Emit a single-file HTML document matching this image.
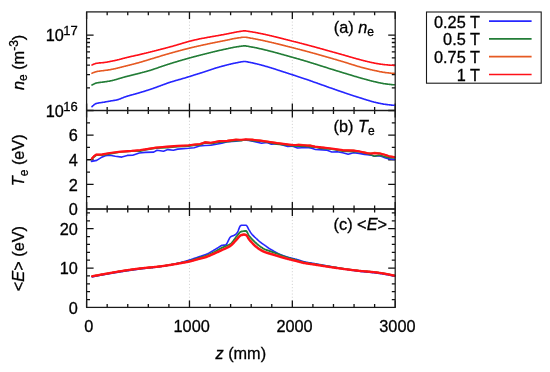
<!DOCTYPE html>
<html><head><meta charset="utf-8"><title>plot</title>
<style>html,body{margin:0;padding:0;background:#fff;}body{width:550px;height:372px;overflow:hidden;}svg{display:block;font-family:"Liberation Sans",Arial,sans-serif;}</style>
</head><body>
<svg width="550" height="372" viewBox="0 0 550 372">
<rect width="550" height="372" fill="#fff"/>
<line x1="189.47" y1="11.90" x2="189.47" y2="307.40" stroke="#c8c8c8" stroke-width="0.8" stroke-dasharray="1.1,2.1"/>
<line x1="292.33" y1="11.90" x2="292.33" y2="307.40" stroke="#c8c8c8" stroke-width="0.8" stroke-dasharray="1.1,2.1"/>
<path d="M86.60,11.90v7.00M86.60,110.50v-7.00M86.60,110.50v7.00M86.60,209.00v-7.00M86.60,209.00v7.00M86.60,307.40v-7.00M107.17,11.90v3.40M107.17,110.50v-3.40M107.17,110.50v3.40M107.17,209.00v-3.40M107.17,209.00v3.40M107.17,307.40v-3.40M127.75,11.90v3.40M127.75,110.50v-3.40M127.75,110.50v3.40M127.75,209.00v-3.40M127.75,209.00v3.40M127.75,307.40v-3.40M148.32,11.90v3.40M148.32,110.50v-3.40M148.32,110.50v3.40M148.32,209.00v-3.40M148.32,209.00v3.40M148.32,307.40v-3.40M168.89,11.90v3.40M168.89,110.50v-3.40M168.89,110.50v3.40M168.89,209.00v-3.40M168.89,209.00v3.40M168.89,307.40v-3.40M189.47,11.90v7.00M189.47,110.50v-7.00M189.47,110.50v7.00M189.47,209.00v-7.00M189.47,209.00v7.00M189.47,307.40v-7.00M210.04,11.90v3.40M210.04,110.50v-3.40M210.04,110.50v3.40M210.04,209.00v-3.40M210.04,209.00v3.40M210.04,307.40v-3.40M230.61,11.90v3.40M230.61,110.50v-3.40M230.61,110.50v3.40M230.61,209.00v-3.40M230.61,209.00v3.40M230.61,307.40v-3.40M251.19,11.90v3.40M251.19,110.50v-3.40M251.19,110.50v3.40M251.19,209.00v-3.40M251.19,209.00v3.40M251.19,307.40v-3.40M271.76,11.90v3.40M271.76,110.50v-3.40M271.76,110.50v3.40M271.76,209.00v-3.40M271.76,209.00v3.40M271.76,307.40v-3.40M292.33,11.90v7.00M292.33,110.50v-7.00M292.33,110.50v7.00M292.33,209.00v-7.00M292.33,209.00v7.00M292.33,307.40v-7.00M312.91,11.90v3.40M312.91,110.50v-3.40M312.91,110.50v3.40M312.91,209.00v-3.40M312.91,209.00v3.40M312.91,307.40v-3.40M333.48,11.90v3.40M333.48,110.50v-3.40M333.48,110.50v3.40M333.48,209.00v-3.40M333.48,209.00v3.40M333.48,307.40v-3.40M354.05,11.90v3.40M354.05,110.50v-3.40M354.05,110.50v3.40M354.05,209.00v-3.40M354.05,209.00v3.40M354.05,307.40v-3.40M374.63,11.90v3.40M374.63,110.50v-3.40M374.63,110.50v3.40M374.63,209.00v-3.40M374.63,209.00v3.40M374.63,307.40v-3.40M395.20,11.90v7.00M395.20,110.50v-7.00M395.20,110.50v7.00M395.20,209.00v-7.00M395.20,209.00v7.00M395.20,307.40v-7.00M86.60,110.50h7.00M395.20,110.50h-7.00M86.60,87.83h3.40M395.20,87.83h-3.40M86.60,74.57h3.40M395.20,74.57h-3.40M86.60,65.16h3.40M395.20,65.16h-3.40M86.60,57.87h3.40M395.20,57.87h-3.40M86.60,51.91h3.40M395.20,51.91h-3.40M86.60,46.86h3.40M395.20,46.86h-3.40M86.60,42.50h3.40M395.20,42.50h-3.40M86.60,38.65h3.40M395.20,38.65h-3.40M86.60,35.20h7.00M395.20,35.20h-7.00M86.60,196.69h3.40M395.20,196.69h-3.40M86.60,184.38h7.00M395.20,184.38h-7.00M86.60,172.06h3.40M395.20,172.06h-3.40M86.60,159.75h7.00M395.20,159.75h-7.00M86.60,147.44h3.40M395.20,147.44h-3.40M86.60,135.12h7.00M395.20,135.12h-7.00M86.60,122.81h3.40M395.20,122.81h-3.40M86.60,299.53h3.40M395.20,299.53h-3.40M86.60,291.66h3.40M395.20,291.66h-3.40M86.60,283.78h3.40M395.20,283.78h-3.40M86.60,275.91h3.40M395.20,275.91h-3.40M86.60,268.04h7.00M395.20,268.04h-7.00M86.60,260.17h3.40M395.20,260.17h-3.40M86.60,252.30h3.40M395.20,252.30h-3.40M86.60,244.42h3.40M395.20,244.42h-3.40M86.60,236.55h3.40M395.20,236.55h-3.40M86.60,228.68h7.00M395.20,228.68h-7.00M86.60,220.81h3.40M395.20,220.81h-3.40M86.60,212.94h3.40M395.20,212.94h-3.40" stroke="#111" stroke-width="1.3" fill="none"/>
<path d="M92.0,106.6L92.5,106.1L93.0,105.7L93.5,105.3L94.0,104.8L94.5,104.5L95.0,104.1L95.5,103.8L96.0,103.6L96.5,103.5L97.0,103.3L97.5,103.2L98.0,103.1L98.5,103.0L99.0,102.9L99.5,102.8L100.0,102.7L100.5,102.7L101.0,102.6L101.5,102.5L102.0,102.5L102.5,102.4L103.0,102.3L103.5,102.2L104.0,102.2L104.5,102.1L105.0,102.0L105.5,101.9L106.0,101.8L106.5,101.7L107.0,101.6L107.5,101.5L108.0,101.5L108.5,101.4L109.0,101.3L109.5,101.2L110.0,101.1L110.5,101.0L111.0,100.9L111.5,100.8L112.0,100.8L112.5,100.7L113.0,100.6L113.5,100.5L114.0,100.4L114.5,100.4L115.0,100.3L115.5,100.2L116.0,100.1L116.5,100.0L117.0,99.9L117.5,99.8L118.0,99.6L118.5,99.5L119.0,99.3L119.5,99.1L120.0,98.9L120.5,98.7L121.0,98.5L121.5,98.3L122.0,98.1L122.5,97.9L123.0,97.7L123.5,97.5L124.0,97.3L124.5,97.1L125.0,96.9L125.5,96.7L126.0,96.6L126.5,96.4L127.0,96.3L127.5,96.1L128.0,96.0L128.5,95.8L129.0,95.7L129.5,95.5L130.0,95.4L130.5,95.3L131.0,95.1L131.5,95.0L132.0,94.8L132.5,94.7L133.0,94.6L133.5,94.4L134.0,94.3L134.5,94.2L135.0,94.0L135.5,93.9L136.0,93.8L136.5,93.6L137.0,93.5L137.5,93.3L138.0,93.2L138.5,93.0L139.0,92.9L139.5,92.8L140.0,92.6L140.5,92.4L141.0,92.3L141.5,92.1L142.0,92.0L142.5,91.8L143.0,91.7L143.5,91.5L144.0,91.4L144.5,91.2L145.0,91.0L145.5,90.9L146.0,90.7L146.5,90.5L147.0,90.4L147.5,90.2L148.0,90.1L148.5,89.9L149.0,89.7L149.5,89.6L150.0,89.4L150.5,89.2L151.0,89.1L151.5,88.9L152.0,88.7L152.5,88.6L153.0,88.4L153.5,88.2L154.0,88.0L154.5,87.9L155.0,87.7L155.5,87.5L156.0,87.4L156.5,87.2L157.0,87.0L157.5,86.8L158.0,86.6L158.5,86.5L159.0,86.3L159.5,86.1L160.0,85.9L160.5,85.7L161.0,85.5L161.5,85.3L162.0,85.2L162.5,85.0L163.0,84.8L163.5,84.6L164.0,84.4L164.5,84.2L165.0,84.0L165.5,83.9L166.0,83.7L166.5,83.5L167.0,83.3L167.5,83.1L168.0,83.0L168.5,82.8L169.0,82.6L169.5,82.5L170.0,82.3L170.5,82.1L171.0,82.0L171.5,81.8L172.0,81.7L172.5,81.5L173.0,81.4L173.5,81.2L174.0,81.1L174.5,80.9L175.0,80.8L175.5,80.6L176.0,80.5L176.5,80.3L177.0,80.2L177.5,80.1L178.0,79.9L178.5,79.8L179.0,79.6L179.5,79.5L180.0,79.4L180.5,79.2L181.0,79.1L181.5,78.9L182.0,78.8L182.5,78.6L183.0,78.5L183.5,78.3L184.0,78.2L184.5,78.1L185.0,77.9L185.5,77.7L186.0,77.6L186.5,77.4L187.0,77.3L187.5,77.1L188.0,77.0L188.5,76.8L189.0,76.7L189.5,76.5L190.0,76.4L190.5,76.2L191.0,76.0L191.5,75.9L192.0,75.7L192.5,75.6L193.0,75.4L193.5,75.3L194.0,75.1L194.5,74.9L195.0,74.8L195.5,74.6L196.0,74.5L196.5,74.3L197.0,74.2L197.5,74.0L198.0,73.8L198.5,73.7L199.0,73.5L199.5,73.4L200.0,73.2L200.5,73.0L201.0,72.9L201.5,72.7L202.0,72.6L202.5,72.4L203.0,72.2L203.5,72.1L204.0,71.9L204.5,71.7L205.0,71.6L205.5,71.4L206.0,71.2L206.5,71.1L207.0,70.9L207.5,70.7L208.0,70.6L208.5,70.4L209.0,70.2L209.5,70.1L210.0,69.9L210.5,69.7L211.0,69.6L211.5,69.4L212.0,69.2L212.5,69.1L213.0,68.9L213.5,68.7L214.0,68.6L214.5,68.4L215.0,68.3L215.5,68.1L216.0,68.0L216.5,67.8L217.0,67.7L217.5,67.5L218.0,67.4L218.5,67.2L219.0,67.1L219.5,66.9L220.0,66.8L220.5,66.7L221.0,66.5L221.5,66.4L222.0,66.3L222.5,66.1L223.0,66.0L223.5,65.9L224.0,65.7L224.5,65.6L225.0,65.5L225.5,65.3L226.0,65.2L226.5,65.1L227.0,64.9L227.5,64.8L228.0,64.7L228.5,64.6L229.0,64.4L229.5,64.3L230.0,64.2L230.5,64.1L231.0,64.0L231.5,63.8L232.0,63.7L232.5,63.6L233.0,63.5L233.5,63.4L234.0,63.3L234.5,63.2L235.0,63.1L235.5,63.0L236.0,62.9L236.5,62.8L237.0,62.7L237.5,62.6L238.0,62.5L238.5,62.4L239.0,62.3L239.5,62.2L240.0,62.1L240.5,62.0L241.0,61.9L241.5,61.8L242.0,61.7L242.5,61.7L243.0,61.6L243.5,61.5L244.0,61.5L244.5,61.5L245.0,61.5L245.5,61.5L246.0,61.6L246.5,61.7L247.0,61.8L247.5,61.9L248.0,62.0L248.5,62.1L249.0,62.2L249.5,62.3L250.0,62.4L250.5,62.5L251.0,62.6L251.5,62.7L252.0,62.8L252.5,62.9L253.0,63.0L253.5,63.1L254.0,63.2L254.5,63.4L255.0,63.5L255.5,63.6L256.0,63.7L256.5,63.8L257.0,63.9L257.5,64.1L258.0,64.2L258.5,64.3L259.0,64.4L259.5,64.6L260.0,64.7L260.5,64.8L261.0,65.0L261.5,65.1L262.0,65.2L262.5,65.4L263.0,65.5L263.5,65.6L264.0,65.8L264.5,65.9L265.0,66.1L265.5,66.2L266.0,66.4L266.5,66.5L267.0,66.6L267.5,66.8L268.0,66.9L268.5,67.1L269.0,67.2L269.5,67.4L270.0,67.5L270.5,67.7L271.0,67.8L271.5,68.0L272.0,68.2L272.5,68.3L273.0,68.5L273.5,68.6L274.0,68.8L274.5,68.9L275.0,69.1L275.5,69.3L276.0,69.4L276.5,69.6L277.0,69.7L277.5,69.9L278.0,70.1L278.5,70.2L279.0,70.4L279.5,70.5L280.0,70.7L280.5,70.9L281.0,71.0L281.5,71.2L282.0,71.4L282.5,71.5L283.0,71.7L283.5,71.9L284.0,72.0L284.5,72.2L285.0,72.3L285.5,72.5L286.0,72.7L286.5,72.8L287.0,73.0L287.5,73.2L288.0,73.3L288.5,73.5L289.0,73.7L289.5,73.8L290.0,74.0L290.5,74.2L291.0,74.3L291.5,74.5L292.0,74.6L292.5,74.8L293.0,75.0L293.5,75.1L294.0,75.3L294.5,75.4L295.0,75.6L295.5,75.8L296.0,75.9L296.5,76.1L297.0,76.2L297.5,76.4L298.0,76.6L298.5,76.7L299.0,76.9L299.5,77.1L300.0,77.2L300.5,77.4L301.0,77.6L301.5,77.7L302.0,77.9L302.5,78.1L303.0,78.2L303.5,78.4L304.0,78.6L304.5,78.7L305.0,78.9L305.5,79.1L306.0,79.3L306.5,79.4L307.0,79.6L307.5,79.8L308.0,79.9L308.5,80.1L309.0,80.3L309.5,80.5L310.0,80.6L310.5,80.8L311.0,81.0L311.5,81.2L312.0,81.3L312.5,81.5L313.0,81.7L313.5,81.9L314.0,82.1L314.5,82.2L315.0,82.4L315.5,82.6L316.0,82.8L316.5,82.9L317.0,83.1L317.5,83.3L318.0,83.5L318.5,83.7L319.0,83.8L319.5,84.0L320.0,84.2L320.5,84.4L321.0,84.5L321.5,84.7L322.0,84.9L322.5,85.1L323.0,85.3L323.5,85.4L324.0,85.6L324.5,85.8L325.0,86.0L325.5,86.1L326.0,86.3L326.5,86.5L327.0,86.7L327.5,86.9L328.0,87.0L328.5,87.2L329.0,87.4L329.5,87.6L330.0,87.7L330.5,87.9L331.0,88.1L331.5,88.3L332.0,88.4L332.5,88.6L333.0,88.8L333.5,89.0L334.0,89.1L334.5,89.3L335.0,89.5L335.5,89.7L336.0,89.8L336.5,90.0L337.0,90.2L337.5,90.4L338.0,90.5L338.5,90.7L339.0,90.9L339.5,91.0L340.0,91.2L340.5,91.4L341.0,91.5L341.5,91.7L342.0,91.9L342.5,92.0L343.0,92.2L343.5,92.4L344.0,92.5L344.5,92.7L345.0,92.9L345.5,93.1L346.0,93.2L346.5,93.4L347.0,93.6L347.5,93.7L348.0,93.9L348.5,94.1L349.0,94.2L349.5,94.4L350.0,94.6L350.5,94.7L351.0,94.9L351.5,95.1L352.0,95.2L352.5,95.4L353.0,95.6L353.5,95.7L354.0,95.9L354.5,96.1L355.0,96.2L355.5,96.4L356.0,96.5L356.5,96.7L357.0,96.9L357.5,97.0L358.0,97.2L358.5,97.3L359.0,97.5L359.5,97.7L360.0,97.8L360.5,98.0L361.0,98.1L361.5,98.3L362.0,98.5L362.5,98.6L363.0,98.8L363.5,98.9L364.0,99.1L364.5,99.2L365.0,99.4L365.5,99.5L366.0,99.7L366.5,99.9L367.0,100.0L367.5,100.2L368.0,100.3L368.5,100.5L369.0,100.6L369.5,100.8L370.0,100.9L370.5,101.1L371.0,101.2L371.5,101.4L372.0,101.5L372.5,101.7L373.0,101.8L373.5,101.9L374.0,102.1L374.5,102.2L375.0,102.3L375.5,102.4L376.0,102.5L376.5,102.7L377.0,102.8L377.5,102.9L378.0,103.0L378.5,103.1L379.0,103.2L379.5,103.3L380.0,103.4L380.5,103.5L381.0,103.6L381.5,103.7L382.0,103.8L382.5,103.9L383.0,104.0L383.5,104.1L384.0,104.2L384.5,104.2L385.0,104.3L385.5,104.4L386.0,104.4L386.5,104.5L387.0,104.6L387.5,104.6L388.0,104.7L388.5,104.8L389.0,104.8L389.5,104.9L390.0,104.9L390.5,105.0L391.0,105.0L391.5,105.1L392.0,105.1L392.5,105.2L393.0,105.2L393.5,105.2L394.0,105.3L394.5,105.3" fill="none" stroke="#2626ff" stroke-width="1.60" stroke-linejoin="round" stroke-linecap="round"/>
<path d="M92.0,85.0L92.5,84.7L93.0,84.4L93.5,84.2L94.0,83.9L94.5,83.7L95.0,83.5L95.5,83.3L96.0,83.1L96.5,83.0L97.0,82.9L97.5,82.8L98.0,82.7L98.5,82.6L99.0,82.6L99.5,82.5L100.0,82.4L100.5,82.4L101.0,82.3L101.5,82.2L102.0,82.2L102.5,82.1L103.0,82.1L103.5,82.0L104.0,81.9L104.5,81.9L105.0,81.8L105.5,81.7L106.0,81.6L106.5,81.6L107.0,81.5L107.5,81.4L108.0,81.3L108.5,81.3L109.0,81.2L109.5,81.1L110.0,81.0L110.5,80.9L111.0,80.8L111.5,80.7L112.0,80.6L112.5,80.5L113.0,80.3L113.5,80.2L114.0,80.1L114.5,79.9L115.0,79.8L115.5,79.7L116.0,79.5L116.5,79.4L117.0,79.2L117.5,79.1L118.0,78.9L118.5,78.8L119.0,78.6L119.5,78.5L120.0,78.3L120.5,78.2L121.0,78.0L121.5,77.9L122.0,77.7L122.5,77.6L123.0,77.4L123.5,77.3L124.0,77.2L124.5,77.0L125.0,76.9L125.5,76.8L126.0,76.6L126.5,76.5L127.0,76.4L127.5,76.3L128.0,76.1L128.5,76.0L129.0,75.9L129.5,75.7L130.0,75.6L130.5,75.5L131.0,75.4L131.5,75.3L132.0,75.1L132.5,75.0L133.0,74.9L133.5,74.8L134.0,74.6L134.5,74.5L135.0,74.4L135.5,74.3L136.0,74.1L136.5,74.0L137.0,73.9L137.5,73.7L138.0,73.6L138.5,73.5L139.0,73.4L139.5,73.2L140.0,73.1L140.5,73.0L141.0,72.8L141.5,72.7L142.0,72.6L142.5,72.4L143.0,72.3L143.5,72.2L144.0,72.1L144.5,71.9L145.0,71.8L145.5,71.7L146.0,71.5L146.5,71.4L147.0,71.2L147.5,71.1L148.0,71.0L148.5,70.8L149.0,70.7L149.5,70.5L150.0,70.4L150.5,70.2L151.0,70.1L151.5,69.9L152.0,69.8L152.5,69.6L153.0,69.5L153.5,69.3L154.0,69.1L154.5,68.9L155.0,68.8L155.5,68.6L156.0,68.4L156.5,68.2L157.0,68.1L157.5,67.9L158.0,67.7L158.5,67.5L159.0,67.3L159.5,67.2L160.0,67.0L160.5,66.8L161.0,66.7L161.5,66.5L162.0,66.3L162.5,66.2L163.0,66.0L163.5,65.8L164.0,65.7L164.5,65.5L165.0,65.3L165.5,65.2L166.0,65.0L166.5,64.8L167.0,64.7L167.5,64.5L168.0,64.3L168.5,64.2L169.0,64.0L169.5,63.9L170.0,63.7L170.5,63.5L171.0,63.4L171.5,63.2L172.0,63.1L172.5,62.9L173.0,62.8L173.5,62.6L174.0,62.5L174.5,62.3L175.0,62.2L175.5,62.0L176.0,61.9L176.5,61.7L177.0,61.6L177.5,61.4L178.0,61.3L178.5,61.1L179.0,61.0L179.5,60.8L180.0,60.7L180.5,60.5L181.0,60.4L181.5,60.2L182.0,60.1L182.5,59.9L183.0,59.8L183.5,59.7L184.0,59.5L184.5,59.4L185.0,59.2L185.5,59.1L186.0,59.0L186.5,58.8L187.0,58.7L187.5,58.5L188.0,58.4L188.5,58.2L189.0,58.1L189.5,58.0L190.0,57.8L190.5,57.7L191.0,57.6L191.5,57.4L192.0,57.3L192.5,57.2L193.0,57.0L193.5,56.9L194.0,56.8L194.5,56.6L195.0,56.5L195.5,56.4L196.0,56.2L196.5,56.1L197.0,56.0L197.5,55.8L198.0,55.7L198.5,55.6L199.0,55.5L199.5,55.3L200.0,55.2L200.5,55.1L201.0,54.9L201.5,54.8L202.0,54.7L202.5,54.6L203.0,54.4L203.5,54.3L204.0,54.2L204.5,54.1L205.0,53.9L205.5,53.8L206.0,53.7L206.5,53.6L207.0,53.4L207.5,53.3L208.0,53.2L208.5,53.1L209.0,52.9L209.5,52.8L210.0,52.7L210.5,52.6L211.0,52.4L211.5,52.3L212.0,52.2L212.5,52.1L213.0,51.9L213.5,51.8L214.0,51.7L214.5,51.6L215.0,51.5L215.5,51.3L216.0,51.2L216.5,51.1L217.0,51.0L217.5,50.9L218.0,50.8L218.5,50.6L219.0,50.5L219.5,50.4L220.0,50.3L220.5,50.2L221.0,50.1L221.5,50.0L222.0,49.9L222.5,49.7L223.0,49.6L223.5,49.5L224.0,49.4L224.5,49.3L225.0,49.2L225.5,49.1L226.0,49.0L226.5,48.9L227.0,48.8L227.5,48.7L228.0,48.6L228.5,48.4L229.0,48.3L229.5,48.2L230.0,48.1L230.5,48.0L231.0,47.9L231.5,47.8L232.0,47.7L232.5,47.6L233.0,47.5L233.5,47.4L234.0,47.3L234.5,47.2L235.0,47.1L235.5,47.0L236.0,47.0L236.5,46.9L237.0,46.8L237.5,46.7L238.0,46.6L238.5,46.6L239.0,46.5L239.5,46.4L240.0,46.4L240.5,46.3L241.0,46.2L241.5,46.1L242.0,46.1L242.5,46.0L243.0,46.0L243.5,45.9L244.0,45.9L244.5,45.9L245.0,45.9L245.5,45.9L246.0,46.0L246.5,46.1L247.0,46.1L247.5,46.2L248.0,46.3L248.5,46.4L249.0,46.5L249.5,46.6L250.0,46.7L250.5,46.8L251.0,46.9L251.5,47.0L252.0,47.1L252.5,47.1L253.0,47.2L253.5,47.3L254.0,47.4L254.5,47.5L255.0,47.6L255.5,47.7L256.0,47.8L256.5,47.9L257.0,48.0L257.5,48.1L258.0,48.3L258.5,48.4L259.0,48.5L259.5,48.6L260.0,48.7L260.5,48.8L261.0,48.9L261.5,49.0L262.0,49.1L262.5,49.3L263.0,49.4L263.5,49.5L264.0,49.6L264.5,49.7L265.0,49.9L265.5,50.0L266.0,50.1L266.5,50.2L267.0,50.3L267.5,50.5L268.0,50.6L268.5,50.7L269.0,50.9L269.5,51.0L270.0,51.1L270.5,51.2L271.0,51.4L271.5,51.5L272.0,51.6L272.5,51.8L273.0,51.9L273.5,52.0L274.0,52.2L274.5,52.3L275.0,52.4L275.5,52.6L276.0,52.7L276.5,52.8L277.0,53.0L277.5,53.1L278.0,53.3L278.5,53.4L279.0,53.5L279.5,53.7L280.0,53.8L280.5,53.9L281.0,54.1L281.5,54.2L282.0,54.4L282.5,54.5L283.0,54.6L283.5,54.8L284.0,54.9L284.5,55.1L285.0,55.2L285.5,55.3L286.0,55.5L286.5,55.6L287.0,55.8L287.5,55.9L288.0,56.0L288.5,56.2L289.0,56.3L289.5,56.5L290.0,56.6L290.5,56.7L291.0,56.9L291.5,57.0L292.0,57.2L292.5,57.3L293.0,57.4L293.5,57.6L294.0,57.7L294.5,57.9L295.0,58.0L295.5,58.1L296.0,58.3L296.5,58.4L297.0,58.6L297.5,58.7L298.0,58.8L298.5,59.0L299.0,59.1L299.5,59.3L300.0,59.4L300.5,59.6L301.0,59.7L301.5,59.9L302.0,60.0L302.5,60.1L303.0,60.3L303.5,60.4L304.0,60.6L304.5,60.7L305.0,60.9L305.5,61.0L306.0,61.2L306.5,61.3L307.0,61.5L307.5,61.6L308.0,61.8L308.5,62.0L309.0,62.1L309.5,62.3L310.0,62.4L310.5,62.6L311.0,62.7L311.5,62.9L312.0,63.0L312.5,63.2L313.0,63.3L313.5,63.5L314.0,63.7L314.5,63.8L315.0,64.0L315.5,64.1L316.0,64.3L316.5,64.4L317.0,64.6L317.5,64.8L318.0,64.9L318.5,65.1L319.0,65.2L319.5,65.4L320.0,65.5L320.5,65.7L321.0,65.9L321.5,66.0L322.0,66.2L322.5,66.3L323.0,66.5L323.5,66.7L324.0,66.8L324.5,67.0L325.0,67.1L325.5,67.3L326.0,67.4L326.5,67.6L327.0,67.8L327.5,67.9L328.0,68.1L328.5,68.2L329.0,68.4L329.5,68.6L330.0,68.7L330.5,68.9L331.0,69.0L331.5,69.2L332.0,69.3L332.5,69.5L333.0,69.6L333.5,69.8L334.0,70.0L334.5,70.1L335.0,70.3L335.5,70.4L336.0,70.6L336.5,70.7L337.0,70.9L337.5,71.0L338.0,71.2L338.5,71.3L339.0,71.5L339.5,71.6L340.0,71.8L340.5,72.0L341.0,72.1L341.5,72.3L342.0,72.4L342.5,72.6L343.0,72.7L343.5,72.9L344.0,73.0L344.5,73.2L345.0,73.3L345.5,73.5L346.0,73.6L346.5,73.8L347.0,73.9L347.5,74.1L348.0,74.2L348.5,74.4L349.0,74.5L349.5,74.7L350.0,74.8L350.5,75.0L351.0,75.1L351.5,75.3L352.0,75.5L352.5,75.6L353.0,75.8L353.5,75.9L354.0,76.1L354.5,76.2L355.0,76.4L355.5,76.5L356.0,76.6L356.5,76.8L357.0,76.9L357.5,77.1L358.0,77.2L358.5,77.4L359.0,77.5L359.5,77.7L360.0,77.8L360.5,78.0L361.0,78.1L361.5,78.2L362.0,78.4L362.5,78.5L363.0,78.7L363.5,78.8L364.0,78.9L364.5,79.1L365.0,79.2L365.5,79.3L366.0,79.5L366.5,79.6L367.0,79.8L367.5,79.9L368.0,80.0L368.5,80.2L369.0,80.3L369.5,80.4L370.0,80.6L370.5,80.7L371.0,80.8L371.5,81.0L372.0,81.1L372.5,81.2L373.0,81.3L373.5,81.5L374.0,81.6L374.5,81.7L375.0,81.8L375.5,81.9L376.0,82.0L376.5,82.1L377.0,82.3L377.5,82.4L378.0,82.5L378.5,82.6L379.0,82.7L379.5,82.8L380.0,82.9L380.5,83.0L381.0,83.1L381.5,83.2L382.0,83.3L382.5,83.4L383.0,83.5L383.5,83.6L384.0,83.7L384.5,83.7L385.0,83.8L385.5,83.9L386.0,83.9L386.5,84.0L387.0,84.1L387.5,84.1L388.0,84.2L388.5,84.3L389.0,84.3L389.5,84.4L390.0,84.4L390.5,84.5L391.0,84.5L391.5,84.6L392.0,84.6L392.5,84.7L393.0,84.7L393.5,84.7L394.0,84.8L394.5,84.8" fill="none" stroke="#237d37" stroke-width="1.60" stroke-linejoin="round" stroke-linecap="round"/>
<path d="M92.0,73.3L92.5,73.1L93.0,72.8L93.5,72.6L94.0,72.4L94.5,72.2L95.0,72.0L95.5,71.9L96.0,71.7L96.5,71.6L97.0,71.5L97.5,71.4L98.0,71.3L98.5,71.2L99.0,71.2L99.5,71.1L100.0,71.0L100.5,71.0L101.0,70.9L101.5,70.8L102.0,70.8L102.5,70.7L103.0,70.7L103.5,70.6L104.0,70.5L104.5,70.5L105.0,70.4L105.5,70.3L106.0,70.3L106.5,70.2L107.0,70.1L107.5,70.1L108.0,70.0L108.5,69.9L109.0,69.9L109.5,69.8L110.0,69.7L110.5,69.6L111.0,69.5L111.5,69.4L112.0,69.3L112.5,69.2L113.0,69.1L113.5,69.0L114.0,68.9L114.5,68.8L115.0,68.7L115.5,68.6L116.0,68.5L116.5,68.3L117.0,68.2L117.5,68.1L118.0,68.0L118.5,67.8L119.0,67.7L119.5,67.6L120.0,67.5L120.5,67.3L121.0,67.2L121.5,67.1L122.0,67.0L122.5,66.8L123.0,66.7L123.5,66.6L124.0,66.4L124.5,66.3L125.0,66.2L125.5,66.1L126.0,66.0L126.5,65.8L127.0,65.7L127.5,65.6L128.0,65.5L128.5,65.3L129.0,65.2L129.5,65.1L130.0,65.0L130.5,64.8L131.0,64.7L131.5,64.6L132.0,64.4L132.5,64.3L133.0,64.2L133.5,64.1L134.0,63.9L134.5,63.8L135.0,63.7L135.5,63.5L136.0,63.4L136.5,63.3L137.0,63.1L137.5,63.0L138.0,62.9L138.5,62.7L139.0,62.6L139.5,62.4L140.0,62.3L140.5,62.2L141.0,62.0L141.5,61.9L142.0,61.7L142.5,61.6L143.0,61.4L143.5,61.3L144.0,61.1L144.5,61.0L145.0,60.8L145.5,60.7L146.0,60.5L146.5,60.4L147.0,60.2L147.5,60.1L148.0,59.9L148.5,59.8L149.0,59.6L149.5,59.5L150.0,59.3L150.5,59.1L151.0,59.0L151.5,58.8L152.0,58.7L152.5,58.5L153.0,58.4L153.5,58.2L154.0,58.1L154.5,57.9L155.0,57.8L155.5,57.6L156.0,57.5L156.5,57.3L157.0,57.2L157.5,57.0L158.0,56.9L158.5,56.7L159.0,56.6L159.5,56.4L160.0,56.2L160.5,56.1L161.0,55.9L161.5,55.8L162.0,55.6L162.5,55.5L163.0,55.3L163.5,55.2L164.0,55.0L164.5,54.9L165.0,54.7L165.5,54.6L166.0,54.4L166.5,54.3L167.0,54.2L167.5,54.0L168.0,53.9L168.5,53.7L169.0,53.6L169.5,53.4L170.0,53.3L170.5,53.2L171.0,53.0L171.5,52.9L172.0,52.7L172.5,52.6L173.0,52.5L173.5,52.3L174.0,52.2L174.5,52.1L175.0,51.9L175.5,51.8L176.0,51.6L176.5,51.5L177.0,51.4L177.5,51.2L178.0,51.1L178.5,51.0L179.0,50.8L179.5,50.7L180.0,50.6L180.5,50.4L181.0,50.3L181.5,50.2L182.0,50.0L182.5,49.9L183.0,49.8L183.5,49.6L184.0,49.5L184.5,49.4L185.0,49.3L185.5,49.1L186.0,49.0L186.5,48.9L187.0,48.7L187.5,48.6L188.0,48.5L188.5,48.4L189.0,48.2L189.5,48.1L190.0,48.0L190.5,47.9L191.0,47.8L191.5,47.6L192.0,47.5L192.5,47.4L193.0,47.3L193.5,47.2L194.0,47.0L194.5,46.9L195.0,46.8L195.5,46.7L196.0,46.6L196.5,46.5L197.0,46.3L197.5,46.2L198.0,46.1L198.5,46.0L199.0,45.9L199.5,45.8L200.0,45.7L200.5,45.6L201.0,45.4L201.5,45.3L202.0,45.2L202.5,45.1L203.0,45.0L203.5,44.9L204.0,44.8L204.5,44.7L205.0,44.6L205.5,44.5L206.0,44.4L206.5,44.3L207.0,44.2L207.5,44.0L208.0,43.9L208.5,43.8L209.0,43.7L209.5,43.6L210.0,43.5L210.5,43.4L211.0,43.3L211.5,43.2L212.0,43.1L212.5,43.0L213.0,42.9L213.5,42.8L214.0,42.7L214.5,42.6L215.0,42.5L215.5,42.4L216.0,42.3L216.5,42.2L217.0,42.1L217.5,42.0L218.0,41.9L218.5,41.8L219.0,41.7L219.5,41.6L220.0,41.5L220.5,41.4L221.0,41.3L221.5,41.2L222.0,41.1L222.5,41.0L223.0,40.9L223.5,40.8L224.0,40.7L224.5,40.6L225.0,40.5L225.5,40.4L226.0,40.3L226.5,40.2L227.0,40.1L227.5,40.0L228.0,39.9L228.5,39.8L229.0,39.7L229.5,39.6L230.0,39.5L230.5,39.3L231.0,39.2L231.5,39.1L232.0,39.0L232.5,38.9L233.0,38.8L233.5,38.7L234.0,38.6L234.5,38.5L235.0,38.4L235.5,38.4L236.0,38.3L236.5,38.2L237.0,38.1L237.5,38.0L238.0,37.9L238.5,37.9L239.0,37.8L239.5,37.7L240.0,37.7L240.5,37.6L241.0,37.5L241.5,37.4L242.0,37.4L242.5,37.3L243.0,37.3L243.5,37.2L244.0,37.2L244.5,37.2L245.0,37.2L245.5,37.2L246.0,37.3L246.5,37.4L247.0,37.4L247.5,37.5L248.0,37.6L248.5,37.7L249.0,37.8L249.5,37.9L250.0,38.0L250.5,38.1L251.0,38.2L251.5,38.3L252.0,38.3L252.5,38.4L253.0,38.5L253.5,38.6L254.0,38.7L254.5,38.8L255.0,38.9L255.5,39.0L256.0,39.1L256.5,39.2L257.0,39.3L257.5,39.4L258.0,39.5L258.5,39.6L259.0,39.7L259.5,39.8L260.0,39.9L260.5,40.0L261.0,40.1L261.5,40.2L262.0,40.3L262.5,40.4L263.0,40.5L263.5,40.6L264.0,40.7L264.5,40.8L265.0,41.0L265.5,41.1L266.0,41.2L266.5,41.3L267.0,41.4L267.5,41.5L268.0,41.6L268.5,41.7L269.0,41.9L269.5,42.0L270.0,42.1L270.5,42.2L271.0,42.3L271.5,42.4L272.0,42.6L272.5,42.7L273.0,42.8L273.5,42.9L274.0,43.0L274.5,43.2L275.0,43.3L275.5,43.4L276.0,43.5L276.5,43.7L277.0,43.8L277.5,43.9L278.0,44.0L278.5,44.1L279.0,44.3L279.5,44.4L280.0,44.5L280.5,44.6L281.0,44.8L281.5,44.9L282.0,45.0L282.5,45.1L283.0,45.3L283.5,45.4L284.0,45.5L284.5,45.6L285.0,45.8L285.5,45.9L286.0,46.0L286.5,46.2L287.0,46.3L287.5,46.4L288.0,46.5L288.5,46.7L289.0,46.8L289.5,46.9L290.0,47.0L290.5,47.2L291.0,47.3L291.5,47.4L292.0,47.5L292.5,47.7L293.0,47.8L293.5,47.9L294.0,48.0L294.5,48.2L295.0,48.3L295.5,48.4L296.0,48.6L296.5,48.7L297.0,48.8L297.5,48.9L298.0,49.1L298.5,49.2L299.0,49.3L299.5,49.4L300.0,49.6L300.5,49.7L301.0,49.8L301.5,50.0L302.0,50.1L302.5,50.2L303.0,50.4L303.5,50.5L304.0,50.6L304.5,50.8L305.0,50.9L305.5,51.0L306.0,51.2L306.5,51.3L307.0,51.4L307.5,51.6L308.0,51.7L308.5,51.8L309.0,52.0L309.5,52.1L310.0,52.2L310.5,52.4L311.0,52.5L311.5,52.7L312.0,52.8L312.5,52.9L313.0,53.1L313.5,53.2L314.0,53.3L314.5,53.5L315.0,53.6L315.5,53.8L316.0,53.9L316.5,54.0L317.0,54.2L317.5,54.3L318.0,54.5L318.5,54.6L319.0,54.7L319.5,54.9L320.0,55.0L320.5,55.2L321.0,55.3L321.5,55.5L322.0,55.6L322.5,55.7L323.0,55.9L323.5,56.0L324.0,56.2L324.5,56.3L325.0,56.5L325.5,56.6L326.0,56.7L326.5,56.9L327.0,57.0L327.5,57.2L328.0,57.3L328.5,57.5L329.0,57.6L329.5,57.8L330.0,57.9L330.5,58.0L331.0,58.2L331.5,58.3L332.0,58.5L332.5,58.6L333.0,58.8L333.5,58.9L334.0,59.1L334.5,59.2L335.0,59.3L335.5,59.5L336.0,59.6L336.5,59.8L337.0,59.9L337.5,60.1L338.0,60.2L338.5,60.4L339.0,60.5L339.5,60.7L340.0,60.8L340.5,60.9L341.0,61.1L341.5,61.2L342.0,61.4L342.5,61.5L343.0,61.7L343.5,61.8L344.0,62.0L344.5,62.2L345.0,62.3L345.5,62.5L346.0,62.6L346.5,62.8L347.0,62.9L347.5,63.1L348.0,63.3L348.5,63.4L349.0,63.6L349.5,63.7L350.0,63.9L350.5,64.0L351.0,64.2L351.5,64.4L352.0,64.5L352.5,64.7L353.0,64.8L353.5,65.0L354.0,65.1L354.5,65.3L355.0,65.5L355.5,65.6L356.0,65.8L356.5,65.9L357.0,66.1L357.5,66.2L358.0,66.4L358.5,66.5L359.0,66.6L359.5,66.8L360.0,66.9L360.5,67.1L361.0,67.2L361.5,67.4L362.0,67.5L362.5,67.6L363.0,67.8L363.5,67.9L364.0,68.0L364.5,68.1L365.0,68.3L365.5,68.4L366.0,68.5L366.5,68.6L367.0,68.8L367.5,68.9L368.0,69.0L368.5,69.1L369.0,69.3L369.5,69.4L370.0,69.5L370.5,69.6L371.0,69.7L371.5,69.8L372.0,69.9L372.5,70.1L373.0,70.2L373.5,70.3L374.0,70.4L374.5,70.5L375.0,70.6L375.5,70.7L376.0,70.8L376.5,70.9L377.0,71.0L377.5,71.1L378.0,71.2L378.5,71.3L379.0,71.5L379.5,71.6L380.0,71.7L380.5,71.8L381.0,71.9L381.5,71.9L382.0,72.0L382.5,72.1L383.0,72.2L383.5,72.3L384.0,72.4L384.5,72.4L385.0,72.5L385.5,72.6L386.0,72.6L386.5,72.7L387.0,72.7L387.5,72.8L388.0,72.9L388.5,72.9L389.0,73.0L389.5,73.0L390.0,73.1L390.5,73.1L391.0,73.2L391.5,73.2L392.0,73.2L392.5,73.3L393.0,73.3L393.5,73.3L394.0,73.4L394.5,73.4" fill="none" stroke="#e65a23" stroke-width="1.60" stroke-linejoin="round" stroke-linecap="round"/>
<path d="M92.0,65.0L92.5,64.8L93.0,64.5L93.5,64.3L94.0,64.1L94.5,63.9L95.0,63.7L95.5,63.5L96.0,63.4L96.5,63.3L97.0,63.2L97.5,63.2L98.0,63.1L98.5,63.0L99.0,63.0L99.5,62.9L100.0,62.9L100.5,62.9L101.0,62.8L101.5,62.8L102.0,62.7L102.5,62.7L103.0,62.6L103.5,62.6L104.0,62.5L104.5,62.5L105.0,62.4L105.5,62.3L106.0,62.3L106.5,62.2L107.0,62.1L107.5,62.0L108.0,61.9L108.5,61.8L109.0,61.7L109.5,61.6L110.0,61.5L110.5,61.4L111.0,61.3L111.5,61.2L112.0,61.1L112.5,61.0L113.0,60.9L113.5,60.8L114.0,60.7L114.5,60.6L115.0,60.5L115.5,60.4L116.0,60.3L116.5,60.2L117.0,60.0L117.5,59.9L118.0,59.8L118.5,59.7L119.0,59.6L119.5,59.4L120.0,59.3L120.5,59.2L121.0,59.0L121.5,58.9L122.0,58.8L122.5,58.6L123.0,58.5L123.5,58.3L124.0,58.2L124.5,58.1L125.0,58.0L125.5,57.8L126.0,57.7L126.5,57.6L127.0,57.5L127.5,57.3L128.0,57.2L128.5,57.1L129.0,57.0L129.5,56.9L130.0,56.8L130.5,56.6L131.0,56.5L131.5,56.4L132.0,56.3L132.5,56.2L133.0,56.1L133.5,56.0L134.0,55.9L134.5,55.8L135.0,55.6L135.5,55.5L136.0,55.4L136.5,55.3L137.0,55.2L137.5,55.1L138.0,55.0L138.5,54.9L139.0,54.7L139.5,54.6L140.0,54.5L140.5,54.4L141.0,54.3L141.5,54.1L142.0,54.0L142.5,53.9L143.0,53.8L143.5,53.7L144.0,53.5L144.5,53.4L145.0,53.3L145.5,53.2L146.0,53.1L146.5,52.9L147.0,52.8L147.5,52.7L148.0,52.6L148.5,52.4L149.0,52.3L149.5,52.2L150.0,52.1L150.5,51.9L151.0,51.8L151.5,51.7L152.0,51.6L152.5,51.4L153.0,51.3L153.5,51.2L154.0,51.1L154.5,50.9L155.0,50.8L155.5,50.7L156.0,50.6L156.5,50.4L157.0,50.3L157.5,50.2L158.0,50.0L158.5,49.9L159.0,49.8L159.5,49.7L160.0,49.5L160.5,49.4L161.0,49.3L161.5,49.1L162.0,49.0L162.5,48.9L163.0,48.7L163.5,48.6L164.0,48.5L164.5,48.4L165.0,48.2L165.5,48.1L166.0,48.0L166.5,47.8L167.0,47.7L167.5,47.6L168.0,47.4L168.5,47.3L169.0,47.2L169.5,47.0L170.0,46.9L170.5,46.8L171.0,46.6L171.5,46.5L172.0,46.4L172.5,46.2L173.0,46.1L173.5,45.9L174.0,45.8L174.5,45.6L175.0,45.5L175.5,45.4L176.0,45.2L176.5,45.1L177.0,44.9L177.5,44.8L178.0,44.6L178.5,44.5L179.0,44.3L179.5,44.2L180.0,44.0L180.5,43.9L181.0,43.7L181.5,43.6L182.0,43.4L182.5,43.3L183.0,43.1L183.5,43.0L184.0,42.8L184.5,42.7L185.0,42.5L185.5,42.4L186.0,42.2L186.5,42.1L187.0,42.0L187.5,41.8L188.0,41.7L188.5,41.5L189.0,41.4L189.5,41.3L190.0,41.1L190.5,41.0L191.0,40.9L191.5,40.7L192.0,40.6L192.5,40.5L193.0,40.4L193.5,40.2L194.0,40.1L194.5,40.0L195.0,39.9L195.5,39.8L196.0,39.7L196.5,39.6L197.0,39.5L197.5,39.4L198.0,39.2L198.5,39.1L199.0,39.0L199.5,38.9L200.0,38.8L200.5,38.7L201.0,38.6L201.5,38.5L202.0,38.4L202.5,38.3L203.0,38.2L203.5,38.2L204.0,38.1L204.5,38.0L205.0,37.9L205.5,37.8L206.0,37.7L206.5,37.6L207.0,37.5L207.5,37.4L208.0,37.3L208.5,37.2L209.0,37.1L209.5,37.1L210.0,37.0L210.5,36.9L211.0,36.8L211.5,36.7L212.0,36.6L212.5,36.5L213.0,36.4L213.5,36.4L214.0,36.3L214.5,36.2L215.0,36.1L215.5,36.0L216.0,35.9L216.5,35.8L217.0,35.7L217.5,35.7L218.0,35.6L218.5,35.5L219.0,35.4L219.5,35.3L220.0,35.2L220.5,35.1L221.0,35.0L221.5,34.9L222.0,34.9L222.5,34.8L223.0,34.7L223.5,34.6L224.0,34.5L224.5,34.4L225.0,34.3L225.5,34.2L226.0,34.1L226.5,34.0L227.0,33.9L227.5,33.8L228.0,33.7L228.5,33.6L229.0,33.5L229.5,33.4L230.0,33.3L230.5,33.2L231.0,33.1L231.5,33.0L232.0,32.9L232.5,32.8L233.0,32.7L233.5,32.6L234.0,32.5L234.5,32.4L235.0,32.3L235.5,32.2L236.0,32.1L236.5,32.0L237.0,31.9L237.5,31.8L238.0,31.8L238.5,31.7L239.0,31.6L239.5,31.5L240.0,31.4L240.5,31.4L241.0,31.3L241.5,31.2L242.0,31.1L242.5,31.0L243.0,31.0L243.5,30.9L244.0,30.9L244.5,30.9L245.0,30.9L245.5,30.9L246.0,31.0L246.5,31.0L247.0,31.1L247.5,31.2L248.0,31.3L248.5,31.4L249.0,31.4L249.5,31.5L250.0,31.6L250.5,31.7L251.0,31.8L251.5,31.8L252.0,31.9L252.5,32.0L253.0,32.1L253.5,32.2L254.0,32.3L254.5,32.3L255.0,32.4L255.5,32.5L256.0,32.6L256.5,32.7L257.0,32.8L257.5,32.9L258.0,33.0L258.5,33.1L259.0,33.2L259.5,33.3L260.0,33.4L260.5,33.5L261.0,33.6L261.5,33.7L262.0,33.8L262.5,33.9L263.0,34.0L263.5,34.1L264.0,34.2L264.5,34.3L265.0,34.4L265.5,34.5L266.0,34.7L266.5,34.8L267.0,34.9L267.5,35.0L268.0,35.1L268.5,35.2L269.0,35.3L269.5,35.5L270.0,35.6L270.5,35.7L271.0,35.8L271.5,35.9L272.0,36.0L272.5,36.2L273.0,36.3L273.5,36.4L274.0,36.5L274.5,36.7L275.0,36.8L275.5,36.9L276.0,37.0L276.5,37.1L277.0,37.3L277.5,37.4L278.0,37.5L278.5,37.6L279.0,37.8L279.5,37.9L280.0,38.0L280.5,38.1L281.0,38.3L281.5,38.4L282.0,38.5L282.5,38.6L283.0,38.8L283.5,38.9L284.0,39.0L284.5,39.2L285.0,39.3L285.5,39.4L286.0,39.5L286.5,39.7L287.0,39.8L287.5,39.9L288.0,40.0L288.5,40.2L289.0,40.3L289.5,40.4L290.0,40.5L290.5,40.7L291.0,40.8L291.5,40.9L292.0,41.1L292.5,41.2L293.0,41.3L293.5,41.4L294.0,41.6L294.5,41.7L295.0,41.8L295.5,41.9L296.0,42.0L296.5,42.2L297.0,42.3L297.5,42.4L298.0,42.5L298.5,42.7L299.0,42.8L299.5,42.9L300.0,43.1L300.5,43.2L301.0,43.3L301.5,43.4L302.0,43.6L302.5,43.7L303.0,43.8L303.5,44.0L304.0,44.1L304.5,44.2L305.0,44.4L305.5,44.5L306.0,44.6L306.5,44.8L307.0,44.9L307.5,45.0L308.0,45.2L308.5,45.3L309.0,45.4L309.5,45.6L310.0,45.7L310.5,45.8L311.0,46.0L311.5,46.1L312.0,46.2L312.5,46.4L313.0,46.5L313.5,46.6L314.0,46.8L314.5,46.9L315.0,47.0L315.5,47.2L316.0,47.3L316.5,47.5L317.0,47.6L317.5,47.7L318.0,47.9L318.5,48.0L319.0,48.1L319.5,48.3L320.0,48.4L320.5,48.6L321.0,48.7L321.5,48.8L322.0,49.0L322.5,49.1L323.0,49.3L323.5,49.4L324.0,49.5L324.5,49.7L325.0,49.8L325.5,50.0L326.0,50.1L326.5,50.2L327.0,50.4L327.5,50.5L328.0,50.7L328.5,50.8L329.0,50.9L329.5,51.1L330.0,51.2L330.5,51.4L331.0,51.5L331.5,51.6L332.0,51.8L332.5,51.9L333.0,52.1L333.5,52.2L334.0,52.3L334.5,52.5L335.0,52.6L335.5,52.8L336.0,52.9L336.5,53.0L337.0,53.2L337.5,53.3L338.0,53.4L338.5,53.6L339.0,53.7L339.5,53.9L340.0,54.0L340.5,54.1L341.0,54.3L341.5,54.4L342.0,54.6L342.5,54.7L343.0,54.8L343.5,55.0L344.0,55.1L344.5,55.3L345.0,55.4L345.5,55.6L346.0,55.7L346.5,55.9L347.0,56.0L347.5,56.1L348.0,56.3L348.5,56.4L349.0,56.6L349.5,56.7L350.0,56.9L350.5,57.0L351.0,57.2L351.5,57.3L352.0,57.4L352.5,57.6L353.0,57.7L353.5,57.9L354.0,58.0L354.5,58.2L355.0,58.3L355.5,58.4L356.0,58.6L356.5,58.7L357.0,58.9L357.5,59.0L358.0,59.1L358.5,59.3L359.0,59.4L359.5,59.5L360.0,59.7L360.5,59.8L361.0,59.9L361.5,60.1L362.0,60.2L362.5,60.3L363.0,60.5L363.5,60.6L364.0,60.7L364.5,60.8L365.0,61.0L365.5,61.1L366.0,61.2L366.5,61.3L367.0,61.4L367.5,61.6L368.0,61.7L368.5,61.8L369.0,61.9L369.5,62.0L370.0,62.2L370.5,62.3L371.0,62.4L371.5,62.5L372.0,62.6L372.5,62.7L373.0,62.8L373.5,62.9L374.0,63.0L374.5,63.1L375.0,63.2L375.5,63.3L376.0,63.4L376.5,63.5L377.0,63.6L377.5,63.6L378.0,63.7L378.5,63.8L379.0,63.9L379.5,64.0L380.0,64.1L380.5,64.1L381.0,64.2L381.5,64.3L382.0,64.3L382.5,64.4L383.0,64.5L383.5,64.5L384.0,64.6L384.5,64.6L385.0,64.7L385.5,64.7L386.0,64.8L386.5,64.8L387.0,64.9L387.5,64.9L388.0,65.0L388.5,65.0L389.0,65.1L389.5,65.1L390.0,65.1L390.5,65.2L391.0,65.2L391.5,65.2L392.0,65.3L392.5,65.3L393.0,65.3L393.5,65.4L394.0,65.4L394.5,65.4" fill="none" stroke="#ff1019" stroke-width="1.60" stroke-linejoin="round" stroke-linecap="round"/>
<path d="M91.5,161.4L96.7,160.4L101.1,157.6L105.4,155.7L109.8,155.2L115.3,156.3L121.8,157.1L127.3,155.4L132.7,155.2L139.3,153.0L145.0,152.4L153.7,152.1L157.0,150.2L160.3,150.7L163.5,151.3L167.9,149.6L173.4,150.2L177.7,149.1L188.6,148.3L194.1,147.7L199.5,146.0L205.0,145.5L210.9,145.2L221.8,143.3L228.4,141.6L236.0,141.1L243.6,140.0L249.1,140.5L255.0,141.8L261.5,143.3L267.0,142.5L271.4,144.2L274.1,144.0L277.9,143.6L283.4,145.3L287.7,146.4L292.1,146.1L297.5,148.0L301.9,147.7L307.3,147.4L311.7,148.3L315.5,149.5L326.4,150.1L331.8,152.0L337.3,151.7L342.7,152.8L348.2,154.2L353.6,152.8L359.1,153.4L364.5,154.4L367.3,154.7L370.9,155.1L374.5,156.2L378.9,155.8L381.8,156.5L385.5,158.0L389.1,158.9L394.5,159.5" fill="none" stroke="#2626ff" stroke-width="1.60" stroke-linejoin="round" stroke-linecap="round"/>
<path d="M91.8,159.3L94.0,157.0L96.2,155.3L102.2,155.3L109.8,153.9L120.7,152.0L131.6,151.3L140.3,151.1L145.0,150.0L155.9,148.3L166.8,147.8L177.7,146.7L188.6,146.3L195.2,145.3L200.0,144.9L204.9,142.9L210.9,143.6L219.6,142.2L227.3,141.7L236.0,140.8L241.4,140.8L245.8,139.6L252.3,140.8L255.0,140.9L260.0,141.2L265.9,141.9L276.8,144.2L287.7,145.2L293.2,146.0L298.6,146.1L307.3,146.5L310.0,146.9L315.0,147.3L320.9,148.5L331.8,149.3L342.7,151.3L353.6,151.7L359.1,151.6L363.0,152.8L367.3,153.8L370.9,154.7L374.5,156.2L378.9,155.1L381.8,155.8L385.5,156.9L389.1,157.6L394.5,158.0" fill="none" stroke="#237d37" stroke-width="1.60" stroke-linejoin="round" stroke-linecap="round"/>
<path d="M91.8,158.4L94.0,156.1L96.2,154.5L102.2,154.6L109.8,153.0L120.7,151.8L131.6,151.1L140.3,150.3L145.0,149.4L155.9,147.2L166.8,146.8L177.7,146.2L188.6,145.4L195.2,144.4L200.0,144.0L204.9,141.9L210.9,142.8L219.6,141.0L227.3,140.5L236.0,139.2L241.4,140.0L245.8,139.5L252.3,139.2L255.0,140.1L260.0,140.3L265.9,141.0L276.8,142.7L287.7,144.5L293.2,145.2L298.6,144.3L307.3,145.4L310.0,145.0L315.0,146.6L320.9,147.0L331.8,148.7L342.7,150.4L353.6,150.4L359.1,151.5L363.0,151.9L367.3,152.7L370.9,153.4L374.5,152.6L379.6,153.0L385.5,154.8L389.1,156.1L394.5,156.8" fill="none" stroke="#e65a23" stroke-width="1.60" stroke-linejoin="round" stroke-linecap="round"/>
<path d="M91.8,158.7L94.0,156.2L96.2,154.6L102.2,154.4L109.8,153.0L120.7,151.6L131.6,150.9L140.3,150.0L145.0,149.4L155.9,147.7L166.8,146.6L177.7,145.9L188.6,145.2L195.2,144.5L200.0,144.0L204.9,142.4L210.9,142.7L219.6,141.1L227.3,140.9L236.0,139.8L241.4,139.8L245.8,139.2L252.3,139.8L255.0,140.0L260.0,140.6L265.9,141.5L276.8,143.1L287.7,144.4L293.2,145.0L298.6,145.0L307.3,145.5L310.0,145.7L315.0,146.6L320.9,147.4L331.8,148.5L342.7,150.1L353.6,150.6L359.1,151.2L363.0,152.3L367.3,153.3L370.9,153.5L374.5,153.3L379.6,153.5L385.5,155.1L389.1,156.2L394.5,157.3" fill="none" stroke="#ff1019" stroke-width="2.10" stroke-linejoin="round" stroke-linecap="round"/>
<path d="M92.2,276.9L92.7,276.8L93.2,276.7L93.7,276.6L94.2,276.5L94.7,276.4L95.2,276.3L95.7,276.2L96.2,276.1L96.7,276.0L97.2,275.9L97.7,275.8L98.2,275.7L98.7,275.6L99.2,275.5L99.7,275.4L100.2,275.3L100.7,275.2L101.2,275.2L101.7,275.1L102.2,275.0L102.7,274.9L103.2,274.8L103.7,274.7L104.2,274.6L104.7,274.5L105.2,274.4L105.7,274.3L106.2,274.2L106.7,274.2L107.2,274.1L107.7,274.0L108.2,273.9L108.7,273.8L109.2,273.7L109.7,273.6L110.2,273.5L110.7,273.5L111.2,273.4L111.7,273.3L112.2,273.2L112.7,273.1L113.2,273.0L113.7,272.9L114.2,272.9L114.7,272.8L115.2,272.7L115.7,272.6L116.2,272.5L116.7,272.5L117.2,272.4L117.7,272.3L118.2,272.2L118.7,272.1L119.2,272.0L119.7,272.0L120.2,271.9L120.7,271.8L121.2,271.7L121.7,271.7L122.2,271.6L122.7,271.5L123.2,271.4L123.7,271.3L124.2,271.3L124.7,271.2L125.2,271.1L125.7,271.0L126.2,271.0L126.7,270.9L127.2,270.8L127.7,270.7L128.2,270.7L128.7,270.6L129.2,270.5L129.7,270.4L130.2,270.4L130.7,270.3L131.2,270.2L131.7,270.1L132.2,270.1L132.7,270.0L133.2,269.9L133.7,269.9L134.2,269.8L134.7,269.7L135.2,269.6L135.7,269.6L136.2,269.5L136.7,269.4L137.2,269.4L137.7,269.3L138.2,269.2L138.7,269.2L139.2,269.1L139.7,269.0L140.2,269.0L140.7,268.9L141.2,268.8L141.7,268.8L142.2,268.7L142.7,268.7L143.2,268.6L143.7,268.5L144.2,268.5L144.7,268.4L145.2,268.4L145.7,268.3L146.2,268.3L146.7,268.2L147.2,268.2L147.7,268.1L148.2,268.0L148.7,268.0L149.2,267.9L149.7,267.9L150.2,267.8L150.7,267.8L151.2,267.7L151.7,267.7L152.2,267.6L152.7,267.6L153.2,267.5L153.7,267.4L154.2,267.4L154.7,267.3L155.2,267.3L155.7,267.2L156.2,267.1L156.7,267.1L157.2,267.0L157.7,267.0L158.2,266.9L158.7,266.8L159.2,266.8L159.7,266.7L160.2,266.6L160.7,266.5L161.2,266.5L161.7,266.4L162.2,266.3L162.7,266.2L163.2,266.1L163.7,266.1L164.2,266.0L164.7,265.9L165.2,265.8L165.7,265.7L166.2,265.6L166.7,265.5L167.2,265.4L167.7,265.3L168.2,265.2L168.7,265.2L169.2,265.1L169.7,265.0L170.2,264.9L170.7,264.8L171.2,264.7L171.7,264.6L172.2,264.5L172.7,264.4L173.2,264.3L173.7,264.1L174.2,264.0L174.7,263.9L175.2,263.8L175.7,263.7L176.2,263.6L176.7,263.5L177.2,263.4L177.7,263.3L178.2,263.1L178.7,263.0L179.2,262.9L179.7,262.8L180.2,262.7L180.7,262.5L181.2,262.4L181.7,262.3L182.2,262.1L182.7,262.0L183.2,261.9L183.7,261.7L184.2,261.6L184.7,261.5L185.2,261.3L185.7,261.2L186.2,261.0L186.7,260.9L187.2,260.7L187.7,260.6L188.2,260.5L188.7,260.3L189.2,260.1L189.7,260.0L190.2,259.8L190.7,259.7L191.2,259.5L191.7,259.3L192.2,259.2L192.7,259.0L193.2,258.8L193.7,258.6L194.2,258.5L194.7,258.3L195.2,258.1L195.7,257.9L196.2,257.7L196.7,257.6L197.2,257.4L197.7,257.2L198.2,257.0L198.7,256.9L199.2,256.7L199.7,256.5L200.2,256.4L200.7,256.2L201.2,256.1L201.7,255.9L202.2,255.8L202.7,255.6L203.2,255.5L203.7,255.3L204.2,255.1L204.7,254.9L205.2,254.8L205.7,254.6L206.2,254.4L206.7,254.1L207.2,253.9L207.7,253.7L208.2,253.4L208.7,253.2L209.2,252.9L209.7,252.6L210.2,252.4L210.7,252.1L211.2,251.8L211.7,251.5L212.2,251.2L212.7,250.9L213.2,250.6L213.7,250.3L214.2,250.0L214.7,249.7L215.2,249.4L215.7,249.1L216.2,248.8L216.7,248.5L217.2,248.2L217.7,247.9L218.2,247.6L218.7,247.3L219.2,246.9L219.7,246.6L220.2,246.3L220.7,246.0L221.2,245.7L221.7,245.4L222.2,245.3L222.7,245.2L223.2,245.2L223.7,245.1L224.2,245.1L224.7,245.1L225.2,245.0L225.7,244.9L226.2,244.5L226.7,243.8L227.2,242.9L227.7,241.9L228.2,240.8L228.7,239.8L229.2,238.8L229.7,237.9L230.2,237.2L230.7,236.7L231.2,236.4L231.7,236.2L232.2,236.0L232.7,235.9L233.2,235.7L233.7,235.5L234.2,235.3L234.7,235.0L235.2,234.7L235.7,234.4L236.2,233.9L236.7,233.4L237.2,232.8L237.7,231.9L238.2,230.7L238.7,229.4L239.2,228.1L239.7,226.9L240.2,226.0L240.7,225.5L241.2,225.4L241.7,225.3L242.2,225.3L242.7,225.3L243.2,225.3L243.7,225.2L244.2,225.2L244.7,225.2L245.2,225.2L245.7,225.2L246.2,225.2L246.7,225.7L247.2,226.4L247.7,227.4L248.2,228.4L248.7,229.4L249.2,230.2L249.7,231.0L250.2,231.8L250.7,232.6L251.2,233.3L251.7,234.0L252.2,234.6L252.7,235.1L253.2,235.6L253.7,236.1L254.2,236.6L254.7,237.1L255.2,237.5L255.7,238.0L256.2,238.5L256.7,238.9L257.2,239.4L257.7,239.9L258.2,240.3L258.7,240.8L259.2,241.2L259.7,241.7L260.2,242.1L260.7,242.5L261.2,242.8L261.7,243.2L262.2,243.5L262.7,243.9L263.2,244.2L263.7,244.5L264.2,244.9L264.7,245.2L265.2,245.6L265.7,245.9L266.2,246.3L266.7,246.7L267.2,247.1L267.7,247.5L268.2,247.8L268.7,248.2L269.2,248.5L269.7,248.8L270.2,249.1L270.7,249.4L271.2,249.6L271.7,249.9L272.2,250.2L272.7,250.5L273.2,250.8L273.7,251.1L274.2,251.4L274.7,251.7L275.2,252.0L275.7,252.3L276.2,252.5L276.7,252.8L277.2,253.1L277.7,253.4L278.2,253.6L278.7,253.9L279.2,254.1L279.7,254.3L280.2,254.5L280.7,254.7L281.2,254.9L281.7,255.1L282.2,255.3L282.7,255.5L283.2,255.7L283.7,255.9L284.2,256.0L284.7,256.2L285.2,256.4L285.7,256.5L286.2,256.7L286.7,256.8L287.2,257.0L287.7,257.2L288.2,257.3L288.7,257.4L289.2,257.6L289.7,257.7L290.2,257.8L290.7,258.0L291.2,258.1L291.7,258.2L292.2,258.3L292.7,258.5L293.2,258.6L293.7,258.7L294.2,258.8L294.7,258.9L295.2,259.1L295.7,259.2L296.2,259.3L296.7,259.4L297.2,259.6L297.7,259.7L298.2,259.9L298.7,260.0L299.2,260.2L299.7,260.4L300.2,260.5L300.7,260.7L301.2,260.9L301.7,261.1L302.2,261.3L302.7,261.4L303.2,261.5L303.7,261.7L304.2,261.8L304.7,261.9L305.2,262.0L305.7,262.1L306.2,262.2L306.7,262.3L307.2,262.4L307.7,262.5L308.2,262.6L308.7,262.7L309.2,262.7L309.7,262.8L310.2,262.9L310.7,263.0L311.2,263.1L311.7,263.1L312.2,263.2L312.7,263.3L313.2,263.4L313.7,263.5L314.2,263.6L314.7,263.6L315.2,263.7L315.7,263.8L316.2,263.9L316.7,264.0L317.2,264.1L317.7,264.2L318.2,264.3L318.7,264.4L319.2,264.5L319.7,264.6L320.2,264.6L320.7,264.7L321.2,264.8L321.7,264.9L322.2,265.0L322.7,265.1L323.2,265.2L323.7,265.3L324.2,265.4L324.7,265.5L325.2,265.6L325.7,265.6L326.2,265.7L326.7,265.8L327.2,265.9L327.7,266.0L328.2,266.1L328.7,266.2L329.2,266.3L329.7,266.4L330.2,266.5L330.7,266.5L331.2,266.6L331.7,266.7L332.2,266.8L332.7,266.9L333.2,267.0L333.7,267.1L334.2,267.2L334.7,267.2L335.2,267.3L335.7,267.4L336.2,267.5L336.7,267.6L337.2,267.7L337.7,267.8L338.2,267.9L338.7,268.0L339.2,268.0L339.7,268.1L340.2,268.2L340.7,268.3L341.2,268.4L341.7,268.5L342.2,268.6L342.7,268.7L343.2,268.8L343.7,268.9L344.2,268.9L344.7,269.0L345.2,269.1L345.7,269.2L346.2,269.3L346.7,269.4L347.2,269.5L347.7,269.6L348.2,269.6L348.7,269.7L349.2,269.8L349.7,269.9L350.2,270.0L350.7,270.1L351.2,270.1L351.7,270.2L352.2,270.3L352.7,270.4L353.2,270.5L353.7,270.5L354.2,270.6L354.7,270.7L355.2,270.8L355.7,270.8L356.2,270.9L356.7,271.0L357.2,271.0L357.7,271.1L358.2,271.2L358.7,271.2L359.2,271.3L359.7,271.3L360.2,271.4L360.7,271.5L361.2,271.5L361.7,271.6L362.2,271.6L362.7,271.7L363.2,271.7L363.7,271.8L364.2,271.8L364.7,271.9L365.2,271.9L365.7,272.0L366.2,272.0L366.7,272.1L367.2,272.1L367.7,272.2L368.2,272.2L368.7,272.3L369.2,272.3L369.7,272.3L370.2,272.4L370.7,272.4L371.2,272.5L371.7,272.5L372.2,272.6L372.7,272.7L373.2,272.7L373.7,272.8L374.2,272.8L374.7,272.9L375.2,272.9L375.7,273.0L376.2,273.1L376.7,273.1L377.2,273.2L377.7,273.3L378.2,273.3L378.7,273.4L379.2,273.5L379.7,273.5L380.2,273.6L380.7,273.7L381.2,273.8L381.7,273.8L382.2,273.9L382.7,274.0L383.2,274.1L383.7,274.2L384.2,274.2L384.7,274.3L385.2,274.4L385.7,274.5L386.2,274.6L386.7,274.7L387.2,274.7L387.7,274.8L388.2,274.9L388.7,275.0L389.2,275.1L389.7,275.2L390.2,275.3L390.7,275.4L391.2,275.5L391.7,275.6L392.2,275.7L392.7,275.8L393.2,275.8L393.7,275.9L394.2,276.0L394.5,276.1" fill="none" stroke="#2626ff" stroke-width="1.60" stroke-linejoin="round" stroke-linecap="round"/>
<path d="M92.2,276.4L92.7,276.3L93.2,276.2L93.7,276.1L94.2,276.0L94.7,275.9L95.2,275.8L95.7,275.7L96.2,275.7L96.7,275.6L97.2,275.5L97.7,275.4L98.2,275.3L98.7,275.2L99.2,275.1L99.7,275.0L100.2,274.9L100.7,274.8L101.2,274.7L101.7,274.6L102.2,274.6L102.7,274.5L103.2,274.4L103.7,274.3L104.2,274.2L104.7,274.1L105.2,274.0L105.7,273.9L106.2,273.8L106.7,273.8L107.2,273.7L107.7,273.6L108.2,273.5L108.7,273.4L109.2,273.3L109.7,273.2L110.2,273.1L110.7,273.0L111.2,273.0L111.7,272.9L112.2,272.8L112.7,272.7L113.2,272.6L113.7,272.5L114.2,272.4L114.7,272.3L115.2,272.2L115.7,272.2L116.2,272.1L116.7,272.0L117.2,271.9L117.7,271.8L118.2,271.7L118.7,271.6L119.2,271.6L119.7,271.5L120.2,271.4L120.7,271.3L121.2,271.2L121.7,271.2L122.2,271.1L122.7,271.0L123.2,270.9L123.7,270.8L124.2,270.8L124.7,270.7L125.2,270.6L125.7,270.5L126.2,270.5L126.7,270.4L127.2,270.3L127.7,270.3L128.2,270.2L128.7,270.1L129.2,270.0L129.7,270.0L130.2,269.9L130.7,269.8L131.2,269.8L131.7,269.7L132.2,269.6L132.7,269.5L133.2,269.5L133.7,269.4L134.2,269.3L134.7,269.3L135.2,269.2L135.7,269.1L136.2,269.1L136.7,269.0L137.2,268.9L137.7,268.9L138.2,268.8L138.7,268.8L139.2,268.7L139.7,268.6L140.2,268.6L140.7,268.5L141.2,268.5L141.7,268.4L142.2,268.3L142.7,268.3L143.2,268.2L143.7,268.2L144.2,268.1L144.7,268.1L145.2,268.0L145.7,268.0L146.2,267.9L146.7,267.9L147.2,267.8L147.7,267.8L148.2,267.7L148.7,267.7L149.2,267.6L149.7,267.6L150.2,267.5L150.7,267.5L151.2,267.4L151.7,267.4L152.2,267.3L152.7,267.3L153.2,267.2L153.7,267.2L154.2,267.1L154.7,267.1L155.2,267.0L155.7,266.9L156.2,266.9L156.7,266.8L157.2,266.8L157.7,266.7L158.2,266.7L158.7,266.6L159.2,266.5L159.7,266.5L160.2,266.4L160.7,266.3L161.2,266.3L161.7,266.2L162.2,266.1L162.7,266.1L163.2,266.0L163.7,265.9L164.2,265.8L164.7,265.8L165.2,265.7L165.7,265.6L166.2,265.5L166.7,265.5L167.2,265.4L167.7,265.3L168.2,265.2L168.7,265.1L169.2,265.0L169.7,265.0L170.2,264.9L170.7,264.8L171.2,264.7L171.7,264.6L172.2,264.5L172.7,264.4L173.2,264.3L173.7,264.2L174.2,264.1L174.7,264.0L175.2,264.0L175.7,263.9L176.2,263.8L176.7,263.7L177.2,263.6L177.7,263.5L178.2,263.4L178.7,263.3L179.2,263.2L179.7,263.1L180.2,263.0L180.7,262.9L181.2,262.8L181.7,262.7L182.2,262.6L182.7,262.5L183.2,262.4L183.7,262.2L184.2,262.1L184.7,262.0L185.2,261.9L185.7,261.8L186.2,261.7L186.7,261.6L187.2,261.5L187.7,261.4L188.2,261.3L188.7,261.1L189.2,261.0L189.7,260.9L190.2,260.7L190.7,260.6L191.2,260.5L191.7,260.3L192.2,260.1L192.7,260.0L193.2,259.8L193.7,259.6L194.2,259.5L194.7,259.3L195.2,259.1L195.7,259.0L196.2,258.8L196.7,258.6L197.2,258.5L197.7,258.3L198.2,258.1L198.7,258.0L199.2,257.8L199.7,257.7L200.2,257.6L200.7,257.4L201.2,257.3L201.7,257.1L202.2,257.0L202.7,256.9L203.2,256.7L203.7,256.6L204.2,256.4L204.7,256.3L205.2,256.1L205.7,255.9L206.2,255.8L206.7,255.6L207.2,255.4L207.7,255.2L208.2,255.0L208.7,254.7L209.2,254.5L209.7,254.3L210.2,254.0L210.7,253.8L211.2,253.6L211.7,253.3L212.2,253.1L212.7,252.8L213.2,252.6L213.7,252.3L214.2,252.0L214.7,251.8L215.2,251.5L215.7,251.2L216.2,251.0L216.7,250.7L217.2,250.4L217.7,250.1L218.2,249.8L218.7,249.5L219.2,249.2L219.7,248.9L220.2,248.7L220.7,248.4L221.2,248.1L221.7,247.9L222.2,247.6L222.7,247.4L223.2,247.2L223.7,246.9L224.2,246.8L224.7,246.6L225.2,246.4L225.7,246.2L226.2,246.0L226.7,245.8L227.2,245.6L227.7,245.4L228.2,245.2L228.7,245.0L229.2,244.7L229.7,244.4L230.2,244.1L230.7,243.8L231.2,243.4L231.7,242.9L232.2,242.3L232.7,241.7L233.2,241.0L233.7,240.3L234.2,239.6L234.7,238.9L235.2,238.2L235.7,237.5L236.2,236.8L236.7,236.3L237.2,235.7L237.7,235.0L238.2,234.4L238.7,233.7L239.2,233.1L239.7,232.6L240.2,232.1L240.7,231.8L241.2,231.6L241.7,231.4L242.2,231.4L242.7,231.3L243.2,231.2L243.7,231.1L244.2,231.1L244.7,231.0L245.2,231.0L245.7,231.0L246.2,231.0L246.7,231.5L247.2,232.3L247.7,233.3L248.2,234.4L248.7,235.3L249.2,236.0L249.7,236.6L250.2,237.2L250.7,237.7L251.2,238.3L251.7,238.8L252.2,239.3L252.7,239.9L253.2,240.4L253.7,240.9L254.2,241.4L254.7,241.9L255.2,242.3L255.7,242.8L256.2,243.2L256.7,243.7L257.2,244.1L257.7,244.5L258.2,245.0L258.7,245.4L259.2,245.8L259.7,246.1L260.2,246.5L260.7,246.8L261.2,247.2L261.7,247.5L262.2,247.8L262.7,248.2L263.2,248.5L263.7,248.8L264.2,249.0L264.7,249.3L265.2,249.5L265.7,249.7L266.2,249.9L266.7,250.1L267.2,250.2L267.7,250.4L268.2,250.6L268.7,250.7L269.2,250.9L269.7,251.1L270.2,251.2L270.7,251.4L271.2,251.6L271.7,251.8L272.2,251.9L272.7,252.1L273.2,252.3L273.7,252.4L274.2,252.6L274.7,252.8L275.2,253.0L275.7,253.2L276.2,253.3L276.7,253.5L277.2,253.7L277.7,253.9L278.2,254.1L278.7,254.3L279.2,254.5L279.7,254.8L280.2,255.0L280.7,255.2L281.2,255.4L281.7,255.6L282.2,255.8L282.7,256.0L283.2,256.2L283.7,256.4L284.2,256.5L284.7,256.7L285.2,256.9L285.7,257.0L286.2,257.2L286.7,257.4L287.2,257.5L287.7,257.7L288.2,257.8L288.7,258.0L289.2,258.1L289.7,258.2L290.2,258.4L290.7,258.5L291.2,258.7L291.7,258.8L292.2,259.0L292.7,259.1L293.2,259.2L293.7,259.4L294.2,259.5L294.7,259.7L295.2,259.8L295.7,259.9L296.2,260.1L296.7,260.2L297.2,260.4L297.7,260.5L298.2,260.7L298.7,260.8L299.2,261.0L299.7,261.1L300.2,261.3L300.7,261.4L301.2,261.6L301.7,261.8L302.2,261.9L302.7,262.0L303.2,262.2L303.7,262.3L304.2,262.4L304.7,262.5L305.2,262.6L305.7,262.7L306.2,262.8L306.7,262.9L307.2,263.0L307.7,263.0L308.2,263.1L308.7,263.2L309.2,263.3L309.7,263.4L310.2,263.4L310.7,263.5L311.2,263.6L311.7,263.7L312.2,263.8L312.7,263.8L313.2,263.9L313.7,264.0L314.2,264.1L314.7,264.2L315.2,264.2L315.7,264.3L316.2,264.4L316.7,264.5L317.2,264.6L317.7,264.6L318.2,264.7L318.7,264.8L319.2,264.9L319.7,265.0L320.2,265.1L320.7,265.1L321.2,265.2L321.7,265.3L322.2,265.4L322.7,265.5L323.2,265.6L323.7,265.6L324.2,265.7L324.7,265.8L325.2,265.9L325.7,266.0L326.2,266.0L326.7,266.1L327.2,266.2L327.7,266.3L328.2,266.4L328.7,266.4L329.2,266.5L329.7,266.6L330.2,266.7L330.7,266.7L331.2,266.8L331.7,266.9L332.2,267.0L332.7,267.1L333.2,267.1L333.7,267.2L334.2,267.3L334.7,267.4L335.2,267.4L335.7,267.5L336.2,267.6L336.7,267.7L337.2,267.7L337.7,267.8L338.2,267.9L338.7,268.0L339.2,268.0L339.7,268.1L340.2,268.2L340.7,268.3L341.2,268.3L341.7,268.4L342.2,268.5L342.7,268.6L343.2,268.6L343.7,268.7L344.2,268.8L344.7,268.9L345.2,268.9L345.7,269.0L346.2,269.1L346.7,269.2L347.2,269.2L347.7,269.3L348.2,269.4L348.7,269.4L349.2,269.5L349.7,269.6L350.2,269.7L350.7,269.7L351.2,269.8L351.7,269.9L352.2,269.9L352.7,270.0L353.2,270.1L353.7,270.1L354.2,270.2L354.7,270.2L355.2,270.3L355.7,270.4L356.2,270.4L356.7,270.5L357.2,270.5L357.7,270.6L358.2,270.7L358.7,270.7L359.2,270.8L359.7,270.8L360.2,270.9L360.7,270.9L361.2,271.0L361.7,271.0L362.2,271.1L362.7,271.1L363.2,271.1L363.7,271.2L364.2,271.2L364.7,271.3L365.2,271.3L365.7,271.4L366.2,271.4L366.7,271.4L367.2,271.5L367.7,271.5L368.2,271.6L368.7,271.6L369.2,271.7L369.7,271.7L370.2,271.7L370.7,271.8L371.2,271.8L371.7,271.9L372.2,271.9L372.7,272.0L373.2,272.0L373.7,272.1L374.2,272.1L374.7,272.2L375.2,272.2L375.7,272.3L376.2,272.4L376.7,272.4L377.2,272.5L377.7,272.6L378.2,272.6L378.7,272.7L379.2,272.8L379.7,272.8L380.2,272.9L380.7,273.0L381.2,273.1L381.7,273.1L382.2,273.2L382.7,273.3L383.2,273.4L383.7,273.5L384.2,273.6L384.7,273.6L385.2,273.7L385.7,273.8L386.2,273.9L386.7,274.0L387.2,274.1L387.7,274.2L388.2,274.3L388.7,274.4L389.2,274.5L389.7,274.6L390.2,274.7L390.7,274.8L391.2,274.9L391.7,275.0L392.2,275.1L392.7,275.2L393.2,275.3L393.7,275.4L394.2,275.5L394.5,275.6" fill="none" stroke="#237d37" stroke-width="1.80" stroke-linejoin="round" stroke-linecap="round"/>
<path d="M92.2,276.1L92.7,276.0L93.2,275.9L93.7,275.8L94.2,275.7L94.7,275.6L95.2,275.5L95.7,275.4L96.2,275.4L96.7,275.3L97.2,275.2L97.7,275.1L98.2,275.0L98.7,274.9L99.2,274.8L99.7,274.7L100.2,274.6L100.7,274.5L101.2,274.4L101.7,274.3L102.2,274.3L102.7,274.2L103.2,274.1L103.7,274.0L104.2,273.9L104.7,273.8L105.2,273.7L105.7,273.6L106.2,273.5L106.7,273.5L107.2,273.4L107.7,273.3L108.2,273.2L108.7,273.1L109.2,273.0L109.7,272.9L110.2,272.8L110.7,272.7L111.2,272.7L111.7,272.6L112.2,272.5L112.7,272.4L113.2,272.3L113.7,272.2L114.2,272.1L114.7,272.0L115.2,271.9L115.7,271.9L116.2,271.8L116.7,271.7L117.2,271.6L117.7,271.5L118.2,271.4L118.7,271.3L119.2,271.3L119.7,271.2L120.2,271.1L120.7,271.0L121.2,270.9L121.7,270.9L122.2,270.8L122.7,270.7L123.2,270.6L123.7,270.5L124.2,270.5L124.7,270.4L125.2,270.3L125.7,270.2L126.2,270.2L126.7,270.1L127.2,270.0L127.7,269.9L128.2,269.9L128.7,269.8L129.2,269.7L129.7,269.7L130.2,269.6L130.7,269.5L131.2,269.4L131.7,269.4L132.2,269.3L132.7,269.2L133.2,269.2L133.7,269.1L134.2,269.0L134.7,269.0L135.2,268.9L135.7,268.8L136.2,268.8L136.7,268.7L137.2,268.6L137.7,268.6L138.2,268.5L138.7,268.5L139.2,268.4L139.7,268.3L140.2,268.3L140.7,268.2L141.2,268.2L141.7,268.1L142.2,268.0L142.7,268.0L143.2,267.9L143.7,267.9L144.2,267.8L144.7,267.8L145.2,267.7L145.7,267.7L146.2,267.6L146.7,267.6L147.2,267.5L147.7,267.5L148.2,267.4L148.7,267.4L149.2,267.3L149.7,267.3L150.2,267.3L150.7,267.2L151.2,267.2L151.7,267.1L152.2,267.1L152.7,267.0L153.2,267.0L153.7,266.9L154.2,266.9L154.7,266.8L155.2,266.8L155.7,266.7L156.2,266.7L156.7,266.6L157.2,266.6L157.7,266.5L158.2,266.4L158.7,266.4L159.2,266.3L159.7,266.3L160.2,266.2L160.7,266.2L161.2,266.1L161.7,266.0L162.2,266.0L162.7,265.9L163.2,265.8L163.7,265.7L164.2,265.7L164.7,265.6L165.2,265.5L165.7,265.5L166.2,265.4L166.7,265.3L167.2,265.2L167.7,265.2L168.2,265.1L168.7,265.0L169.2,264.9L169.7,264.8L170.2,264.8L170.7,264.7L171.2,264.6L171.7,264.5L172.2,264.4L172.7,264.4L173.2,264.3L173.7,264.2L174.2,264.1L174.7,264.0L175.2,263.9L175.7,263.9L176.2,263.8L176.7,263.7L177.2,263.6L177.7,263.5L178.2,263.4L178.7,263.3L179.2,263.2L179.7,263.2L180.2,263.1L180.7,263.0L181.2,262.9L181.7,262.8L182.2,262.7L182.7,262.6L183.2,262.5L183.7,262.4L184.2,262.4L184.7,262.3L185.2,262.2L185.7,262.1L186.2,262.0L186.7,261.9L187.2,261.8L187.7,261.7L188.2,261.6L188.7,261.5L189.2,261.4L189.7,261.3L190.2,261.2L190.7,261.0L191.2,260.9L191.7,260.8L192.2,260.7L192.7,260.5L193.2,260.4L193.7,260.2L194.2,260.1L194.7,260.0L195.2,259.8L195.7,259.7L196.2,259.5L196.7,259.4L197.2,259.2L197.7,259.1L198.2,258.9L198.7,258.8L199.2,258.7L199.7,258.5L200.2,258.4L200.7,258.2L201.2,258.1L201.7,257.9L202.2,257.8L202.7,257.6L203.2,257.5L203.7,257.3L204.2,257.1L204.7,257.0L205.2,256.8L205.7,256.6L206.2,256.5L206.7,256.3L207.2,256.1L207.7,255.9L208.2,255.7L208.7,255.5L209.2,255.3L209.7,255.1L210.2,254.8L210.7,254.6L211.2,254.4L211.7,254.2L212.2,253.9L212.7,253.7L213.2,253.5L213.7,253.3L214.2,253.1L214.7,252.8L215.2,252.6L215.7,252.4L216.2,252.2L216.7,251.9L217.2,251.7L217.7,251.5L218.2,251.3L218.7,251.0L219.2,250.8L219.7,250.6L220.2,250.4L220.7,250.1L221.2,249.9L221.7,249.6L222.2,249.4L222.7,249.2L223.2,248.9L223.7,248.7L224.2,248.5L224.7,248.3L225.2,248.1L225.7,247.8L226.2,247.6L226.7,247.4L227.2,247.1L227.7,246.9L228.2,246.6L228.7,246.3L229.2,246.1L229.7,245.8L230.2,245.4L230.7,245.1L231.2,244.7L231.7,244.3L232.2,243.8L232.7,243.3L233.2,242.8L233.7,242.3L234.2,241.7L234.7,241.1L235.2,240.6L235.7,240.0L236.2,239.5L236.7,239.0L237.2,238.4L237.7,237.8L238.2,237.2L238.7,236.6L239.2,236.1L239.7,235.6L240.2,235.2L240.7,234.9L241.2,234.7L241.7,234.5L242.2,234.4L242.7,234.3L243.2,234.2L243.7,234.1L244.2,234.1L244.7,234.2L245.2,234.3L245.7,234.5L246.2,234.7L246.7,235.0L247.2,235.7L247.7,236.6L248.2,237.6L248.7,238.4L249.2,239.1L249.7,239.7L250.2,240.3L250.7,240.8L251.2,241.4L251.7,241.9L252.2,242.4L252.7,243.0L253.2,243.5L253.7,244.0L254.2,244.5L254.7,245.0L255.2,245.5L255.7,245.9L256.2,246.3L256.7,246.7L257.2,247.1L257.7,247.5L258.2,247.9L258.7,248.2L259.2,248.6L259.7,248.9L260.2,249.2L260.7,249.5L261.2,249.8L261.7,250.1L262.2,250.3L262.7,250.6L263.2,250.9L263.7,251.1L264.2,251.3L264.7,251.5L265.2,251.7L265.7,251.9L266.2,252.1L266.7,252.2L267.2,252.4L267.7,252.5L268.2,252.7L268.7,252.8L269.2,253.0L269.7,253.1L270.2,253.3L270.7,253.4L271.2,253.6L271.7,253.7L272.2,253.8L272.7,254.0L273.2,254.1L273.7,254.3L274.2,254.4L274.7,254.6L275.2,254.7L275.7,254.9L276.2,255.0L276.7,255.2L277.2,255.3L277.7,255.5L278.2,255.6L278.7,255.8L279.2,255.9L279.7,256.1L280.2,256.2L280.7,256.4L281.2,256.5L281.7,256.7L282.2,256.8L282.7,257.0L283.2,257.1L283.7,257.3L284.2,257.4L284.7,257.6L285.2,257.7L285.7,257.9L286.2,258.0L286.7,258.2L287.2,258.3L287.7,258.4L288.2,258.6L288.7,258.7L289.2,258.9L289.7,259.0L290.2,259.2L290.7,259.3L291.2,259.4L291.7,259.6L292.2,259.7L292.7,259.9L293.2,260.0L293.7,260.1L294.2,260.3L294.7,260.4L295.2,260.5L295.7,260.7L296.2,260.8L296.7,260.9L297.2,261.1L297.7,261.2L298.2,261.4L298.7,261.5L299.2,261.6L299.7,261.8L300.2,261.9L300.7,262.0L301.2,262.2L301.7,262.3L302.2,262.4L302.7,262.6L303.2,262.7L303.7,262.8L304.2,262.9L304.7,262.9L305.2,263.0L305.7,263.1L306.2,263.2L306.7,263.3L307.2,263.4L307.7,263.4L308.2,263.5L308.7,263.6L309.2,263.7L309.7,263.7L310.2,263.8L310.7,263.9L311.2,263.9L311.7,264.0L312.2,264.1L312.7,264.2L313.2,264.2L313.7,264.3L314.2,264.4L314.7,264.5L315.2,264.5L315.7,264.6L316.2,264.7L316.7,264.8L317.2,264.8L317.7,264.9L318.2,265.0L318.7,265.1L319.2,265.2L319.7,265.2L320.2,265.3L320.7,265.4L321.2,265.5L321.7,265.6L322.2,265.6L322.7,265.7L323.2,265.8L323.7,265.9L324.2,266.0L324.7,266.0L325.2,266.1L325.7,266.2L326.2,266.3L326.7,266.4L327.2,266.4L327.7,266.5L328.2,266.6L328.7,266.7L329.2,266.7L329.7,266.8L330.2,266.9L330.7,267.0L331.2,267.0L331.7,267.1L332.2,267.2L332.7,267.3L333.2,267.3L333.7,267.4L334.2,267.5L334.7,267.6L335.2,267.6L335.7,267.7L336.2,267.8L336.7,267.8L337.2,267.9L337.7,268.0L338.2,268.0L338.7,268.1L339.2,268.2L339.7,268.3L340.2,268.3L340.7,268.4L341.2,268.5L341.7,268.5L342.2,268.6L342.7,268.7L343.2,268.7L343.7,268.8L344.2,268.9L344.7,268.9L345.2,269.0L345.7,269.1L346.2,269.1L346.7,269.2L347.2,269.2L347.7,269.3L348.2,269.4L348.7,269.4L349.2,269.5L349.7,269.6L350.2,269.6L350.7,269.7L351.2,269.7L351.7,269.8L352.2,269.9L352.7,269.9L353.2,270.0L353.7,270.0L354.2,270.1L354.7,270.2L355.2,270.2L355.7,270.3L356.2,270.3L356.7,270.4L357.2,270.4L357.7,270.5L358.2,270.6L358.7,270.6L359.2,270.7L359.7,270.7L360.2,270.8L360.7,270.8L361.2,270.9L361.7,270.9L362.2,270.9L362.7,271.0L363.2,271.0L363.7,271.1L364.2,271.1L364.7,271.2L365.2,271.2L365.7,271.2L366.2,271.3L366.7,271.3L367.2,271.4L367.7,271.4L368.2,271.5L368.7,271.5L369.2,271.5L369.7,271.6L370.2,271.6L370.7,271.7L371.2,271.7L371.7,271.8L372.2,271.8L372.7,271.9L373.2,271.9L373.7,272.0L374.2,272.0L374.7,272.1L375.2,272.1L375.7,272.2L376.2,272.3L376.7,272.3L377.2,272.4L377.7,272.5L378.2,272.5L378.7,272.6L379.2,272.7L379.7,272.7L380.2,272.8L380.7,272.9L381.2,273.0L381.7,273.0L382.2,273.1L382.7,273.2L383.2,273.3L383.7,273.4L384.2,273.5L384.7,273.5L385.2,273.6L385.7,273.7L386.2,273.8L386.7,273.9L387.2,274.0L387.7,274.1L388.2,274.2L388.7,274.3L389.2,274.4L389.7,274.5L390.2,274.6L390.7,274.7L391.2,274.8L391.7,274.9L392.2,275.0L392.7,275.1L393.2,275.2L393.7,275.3L394.2,275.4L394.5,275.5" fill="none" stroke="#e65a23" stroke-width="1.60" stroke-linejoin="round" stroke-linecap="round"/>
<path d="M92.2,276.3L92.7,276.2L93.2,276.1L93.7,276.0L94.2,275.9L94.7,275.8L95.2,275.7L95.7,275.6L96.2,275.6L96.7,275.5L97.2,275.4L97.7,275.3L98.2,275.2L98.7,275.1L99.2,275.0L99.7,274.9L100.2,274.8L100.7,274.7L101.2,274.6L101.7,274.5L102.2,274.5L102.7,274.4L103.2,274.3L103.7,274.2L104.2,274.1L104.7,274.0L105.2,273.9L105.7,273.8L106.2,273.7L106.7,273.7L107.2,273.6L107.7,273.5L108.2,273.4L108.7,273.3L109.2,273.2L109.7,273.1L110.2,273.0L110.7,272.9L111.2,272.9L111.7,272.8L112.2,272.7L112.7,272.6L113.2,272.5L113.7,272.4L114.2,272.3L114.7,272.2L115.2,272.1L115.7,272.1L116.2,272.0L116.7,271.9L117.2,271.8L117.7,271.7L118.2,271.6L118.7,271.5L119.2,271.5L119.7,271.4L120.2,271.3L120.7,271.2L121.2,271.1L121.7,271.1L122.2,271.0L122.7,270.9L123.2,270.8L123.7,270.7L124.2,270.7L124.7,270.6L125.2,270.5L125.7,270.4L126.2,270.4L126.7,270.3L127.2,270.2L127.7,270.1L128.2,270.1L128.7,270.0L129.2,269.9L129.7,269.9L130.2,269.8L130.7,269.7L131.2,269.6L131.7,269.6L132.2,269.5L132.7,269.4L133.2,269.4L133.7,269.3L134.2,269.2L134.7,269.2L135.2,269.1L135.7,269.0L136.2,269.0L136.7,268.9L137.2,268.8L137.7,268.8L138.2,268.7L138.7,268.7L139.2,268.6L139.7,268.5L140.2,268.5L140.7,268.4L141.2,268.4L141.7,268.3L142.2,268.2L142.7,268.2L143.2,268.1L143.7,268.1L144.2,268.0L144.7,268.0L145.2,267.9L145.7,267.9L146.2,267.8L146.7,267.8L147.2,267.7L147.7,267.7L148.2,267.6L148.7,267.6L149.2,267.5L149.7,267.5L150.2,267.5L150.7,267.4L151.2,267.4L151.7,267.3L152.2,267.3L152.7,267.2L153.2,267.2L153.7,267.1L154.2,267.1L154.7,267.0L155.2,267.0L155.7,266.9L156.2,266.9L156.7,266.8L157.2,266.8L157.7,266.7L158.2,266.6L158.7,266.6L159.2,266.5L159.7,266.5L160.2,266.4L160.7,266.4L161.2,266.3L161.7,266.2L162.2,266.2L162.7,266.1L163.2,266.0L163.7,265.9L164.2,265.9L164.7,265.8L165.2,265.7L165.7,265.7L166.2,265.6L166.7,265.5L167.2,265.4L167.7,265.4L168.2,265.3L168.7,265.2L169.2,265.1L169.7,265.0L170.2,265.0L170.7,264.9L171.2,264.8L171.7,264.7L172.2,264.6L172.7,264.6L173.2,264.5L173.7,264.4L174.2,264.3L174.7,264.2L175.2,264.1L175.7,264.1L176.2,264.0L176.7,263.9L177.2,263.8L177.7,263.7L178.2,263.6L178.7,263.5L179.2,263.4L179.7,263.4L180.2,263.3L180.7,263.2L181.2,263.1L181.7,263.0L182.2,262.9L182.7,262.8L183.2,262.7L183.7,262.6L184.2,262.6L184.7,262.5L185.2,262.4L185.7,262.3L186.2,262.2L186.7,262.1L187.2,262.0L187.7,261.9L188.2,261.8L188.7,261.7L189.2,261.6L189.7,261.5L190.2,261.4L190.7,261.2L191.2,261.1L191.7,261.0L192.2,260.8L192.7,260.7L193.2,260.6L193.7,260.4L194.2,260.3L194.7,260.1L195.2,260.0L195.7,259.8L196.2,259.7L196.7,259.6L197.2,259.4L197.7,259.3L198.2,259.1L198.7,259.0L199.2,258.9L199.7,258.8L200.2,258.6L200.7,258.5L201.2,258.4L201.7,258.3L202.2,258.2L202.7,258.0L203.2,257.9L203.7,257.8L204.2,257.7L204.7,257.5L205.2,257.4L205.7,257.2L206.2,257.1L206.7,256.9L207.2,256.7L207.7,256.5L208.2,256.3L208.7,256.1L209.2,255.9L209.7,255.7L210.2,255.5L210.7,255.2L211.2,255.0L211.7,254.8L212.2,254.6L212.7,254.3L213.2,254.1L213.7,253.9L214.2,253.7L214.7,253.4L215.2,253.2L215.7,253.0L216.2,252.8L216.7,252.5L217.2,252.3L217.7,252.1L218.2,251.9L218.7,251.6L219.2,251.4L219.7,251.2L220.2,251.0L220.7,250.7L221.2,250.5L221.7,250.2L222.2,250.0L222.7,249.8L223.2,249.5L223.7,249.3L224.2,249.1L224.7,248.9L225.2,248.7L225.7,248.4L226.2,248.2L226.7,248.0L227.2,247.7L227.7,247.5L228.2,247.2L228.7,246.9L229.2,246.7L229.7,246.4L230.2,246.0L230.7,245.7L231.2,245.3L231.7,244.9L232.2,244.4L232.7,243.9L233.2,243.4L233.7,242.9L234.2,242.3L234.7,241.7L235.2,241.2L235.7,240.6L236.2,240.1L236.7,239.6L237.2,239.0L237.7,238.4L238.2,237.8L238.7,237.2L239.2,236.7L239.7,236.2L240.2,235.8L240.7,235.5L241.2,235.3L241.7,235.1L242.2,235.0L242.7,234.9L243.2,234.8L243.7,234.7L244.2,234.7L244.7,234.8L245.2,234.9L245.7,235.1L246.2,235.3L246.7,235.6L247.2,236.3L247.7,237.2L248.2,238.2L248.7,239.0L249.2,239.7L249.7,240.3L250.2,240.9L250.7,241.4L251.2,242.0L251.7,242.5L252.2,243.0L252.7,243.6L253.2,244.1L253.7,244.6L254.2,245.1L254.7,245.6L255.2,246.1L255.7,246.5L256.2,246.9L256.7,247.3L257.2,247.7L257.7,248.1L258.2,248.5L258.7,248.8L259.2,249.2L259.7,249.5L260.2,249.8L260.7,250.1L261.2,250.4L261.7,250.7L262.2,250.9L262.7,251.2L263.2,251.5L263.7,251.7L264.2,251.9L264.7,252.1L265.2,252.3L265.7,252.5L266.2,252.7L266.7,252.8L267.2,253.0L267.7,253.1L268.2,253.3L268.7,253.4L269.2,253.6L269.7,253.7L270.2,253.9L270.7,254.0L271.2,254.2L271.7,254.3L272.2,254.4L272.7,254.6L273.2,254.7L273.7,254.9L274.2,255.0L274.7,255.2L275.2,255.3L275.7,255.5L276.2,255.6L276.7,255.8L277.2,255.9L277.7,256.1L278.2,256.2L278.7,256.4L279.2,256.5L279.7,256.7L280.2,256.9L280.7,257.0L281.2,257.2L281.7,257.3L282.2,257.5L282.7,257.6L283.2,257.7L283.7,257.9L284.2,258.0L284.7,258.2L285.2,258.3L285.7,258.4L286.2,258.6L286.7,258.7L287.2,258.8L287.7,259.0L288.2,259.1L288.7,259.2L289.2,259.3L289.7,259.5L290.2,259.6L290.7,259.7L291.2,259.8L291.7,259.9L292.2,260.1L292.7,260.2L293.2,260.3L293.7,260.4L294.2,260.6L294.7,260.7L295.2,260.8L295.7,260.9L296.2,261.0L296.7,261.2L297.2,261.3L297.7,261.4L298.2,261.6L298.7,261.7L299.2,261.8L299.7,262.0L300.2,262.1L300.7,262.2L301.2,262.4L301.7,262.5L302.2,262.6L302.7,262.7L303.2,262.9L303.7,263.0L304.2,263.1L304.7,263.1L305.2,263.2L305.7,263.3L306.2,263.4L306.7,263.5L307.2,263.6L307.7,263.6L308.2,263.7L308.7,263.8L309.2,263.9L309.7,263.9L310.2,264.0L310.7,264.1L311.2,264.1L311.7,264.2L312.2,264.3L312.7,264.4L313.2,264.4L313.7,264.5L314.2,264.6L314.7,264.7L315.2,264.7L315.7,264.8L316.2,264.9L316.7,265.0L317.2,265.0L317.7,265.1L318.2,265.2L318.7,265.3L319.2,265.4L319.7,265.4L320.2,265.5L320.7,265.6L321.2,265.7L321.7,265.8L322.2,265.8L322.7,265.9L323.2,266.0L323.7,266.1L324.2,266.2L324.7,266.2L325.2,266.3L325.7,266.4L326.2,266.5L326.7,266.6L327.2,266.6L327.7,266.7L328.2,266.8L328.7,266.9L329.2,266.9L329.7,267.0L330.2,267.1L330.7,267.2L331.2,267.2L331.7,267.3L332.2,267.4L332.7,267.5L333.2,267.5L333.7,267.6L334.2,267.7L334.7,267.8L335.2,267.8L335.7,267.9L336.2,268.0L336.7,268.0L337.2,268.1L337.7,268.2L338.2,268.2L338.7,268.3L339.2,268.4L339.7,268.5L340.2,268.5L340.7,268.6L341.2,268.7L341.7,268.7L342.2,268.8L342.7,268.9L343.2,268.9L343.7,269.0L344.2,269.1L344.7,269.1L345.2,269.2L345.7,269.3L346.2,269.3L346.7,269.4L347.2,269.4L347.7,269.5L348.2,269.6L348.7,269.6L349.2,269.7L349.7,269.8L350.2,269.8L350.7,269.9L351.2,269.9L351.7,270.0L352.2,270.1L352.7,270.1L353.2,270.2L353.7,270.2L354.2,270.3L354.7,270.4L355.2,270.4L355.7,270.5L356.2,270.5L356.7,270.6L357.2,270.6L357.7,270.7L358.2,270.8L358.7,270.8L359.2,270.9L359.7,270.9L360.2,271.0L360.7,271.0L361.2,271.1L361.7,271.1L362.2,271.1L362.7,271.2L363.2,271.2L363.7,271.3L364.2,271.3L364.7,271.4L365.2,271.4L365.7,271.4L366.2,271.5L366.7,271.5L367.2,271.6L367.7,271.6L368.2,271.7L368.7,271.7L369.2,271.7L369.7,271.8L370.2,271.8L370.7,271.9L371.2,271.9L371.7,272.0L372.2,272.0L372.7,272.1L373.2,272.1L373.7,272.2L374.2,272.2L374.7,272.3L375.2,272.3L375.7,272.4L376.2,272.5L376.7,272.5L377.2,272.6L377.7,272.7L378.2,272.7L378.7,272.8L379.2,272.9L379.7,272.9L380.2,273.0L380.7,273.1L381.2,273.2L381.7,273.2L382.2,273.3L382.7,273.4L383.2,273.5L383.7,273.6L384.2,273.7L384.7,273.7L385.2,273.8L385.7,273.9L386.2,274.0L386.7,274.1L387.2,274.2L387.7,274.3L388.2,274.4L388.7,274.5L389.2,274.6L389.7,274.7L390.2,274.8L390.7,274.9L391.2,275.0L391.7,275.1L392.2,275.2L392.7,275.3L393.2,275.4L393.7,275.5L394.2,275.6L394.5,275.7" fill="none" stroke="#ff1019" stroke-width="2.30" stroke-linejoin="round" stroke-linecap="round"/>
<rect x="86.60" y="11.90" width="308.60" height="98.60" fill="none" stroke="#1a1a1a" stroke-width="1.25"/>
<rect x="86.60" y="110.50" width="308.60" height="98.50" fill="none" stroke="#1a1a1a" stroke-width="1.25"/>
<rect x="86.60" y="209.00" width="308.60" height="98.40" fill="none" stroke="#1a1a1a" stroke-width="1.25"/>
<g font-family='&quot;Liberation Sans&quot;, Arial, sans-serif' fill="#000" stroke="#000" stroke-width="0.3">
<text x="88.80" y="331.90" text-anchor="middle" font-size="16.3" >0</text>
<text x="191.67" y="331.90" text-anchor="middle" font-size="16.3" >1000</text>
<text x="294.53" y="331.90" text-anchor="middle" font-size="16.3" >2000</text>
<text x="397.40" y="331.90" text-anchor="middle" font-size="16.3" >3000</text>
<text x="77.80" y="215.20" text-anchor="end" font-size="16.3" >0</text>
<text x="77.80" y="190.57" text-anchor="end" font-size="16.3" >2</text>
<text x="77.80" y="165.95" text-anchor="end" font-size="16.3" >4</text>
<text x="77.80" y="141.32" text-anchor="end" font-size="16.3" >6</text>
<text x="77.80" y="313.60" text-anchor="end" font-size="16.3" >0</text>
<text x="77.80" y="274.24" text-anchor="end" font-size="16.3" >10</text>
<text x="77.80" y="234.88" text-anchor="end" font-size="16.3" >20</text>
<text x="77.80" y="116.80" text-anchor="end" font-size="16.3">10<tspan font-size="13" dx="-0.5" dy="-6">16</tspan></text>
<text x="77.80" y="41.00" text-anchor="end" font-size="16.3">10<tspan font-size="13" dx="-0.5" dy="-6">17</tspan></text>
<text x="333.8" y="33.0" font-size="16.3">(a) <tspan font-style="italic">n</tspan><tspan font-size="12" dy="3.3">e</tspan></text>
<text x="333.5" y="132.1" font-size="16.3">(b) <tspan font-style="italic">T</tspan><tspan font-size="12" dy="3.3">e</tspan></text>
<text x="333.6" y="230.2" font-size="16.3">(c) &lt;<tspan font-style="italic">E</tspan>&gt;</text>
<text x="240.8" y="358.6" text-anchor="middle" font-size="16.3"><tspan font-style="italic">z</tspan> (mm)</text>
<text transform="translate(23.8,62.4) rotate(-90)" text-anchor="middle" font-size="16.3"><tspan font-style="italic">n</tspan><tspan font-size="12" dy="3.3">e</tspan><tspan dy="-3.3"> (m</tspan><tspan font-size="12" dy="-6">-3</tspan><tspan dy="6">)</tspan></text>
<text transform="translate(24.2,160.3) rotate(-90)" text-anchor="middle" font-size="16.3"><tspan font-style="italic">T</tspan><tspan font-size="12" dy="3.3">e</tspan><tspan dy="-3.3"> (eV)</tspan></text>
<text transform="translate(24.2,258.6) rotate(-90)" text-anchor="middle" font-size="16.3">&lt;<tspan font-style="italic">E</tspan>&gt; (eV)</text>
<rect x="426.5" y="12.0" width="114.7" height="71.2" fill="#fff" stroke="#1a1a1a" stroke-width="1.1"/>
<text x="479.90" y="27.50" text-anchor="end" font-size="16.3" >0.25 T</text>
<line x1="489" y1="21.10" x2="531.6" y2="21.10" stroke="#2626ff" stroke-width="1.7"/>
<text x="479.90" y="45.20" text-anchor="end" font-size="16.3" >0.5 T</text>
<line x1="489" y1="38.80" x2="531.6" y2="38.80" stroke="#237d37" stroke-width="1.7"/>
<text x="479.90" y="63.00" text-anchor="end" font-size="16.3" >0.75 T</text>
<line x1="489" y1="56.60" x2="531.6" y2="56.60" stroke="#e65a23" stroke-width="1.7"/>
<text x="479.90" y="80.90" text-anchor="end" font-size="16.3" >1 T</text>
<line x1="489" y1="74.50" x2="531.6" y2="74.50" stroke="#ff1019" stroke-width="1.7"/>
</g>
</svg>
</body></html>
